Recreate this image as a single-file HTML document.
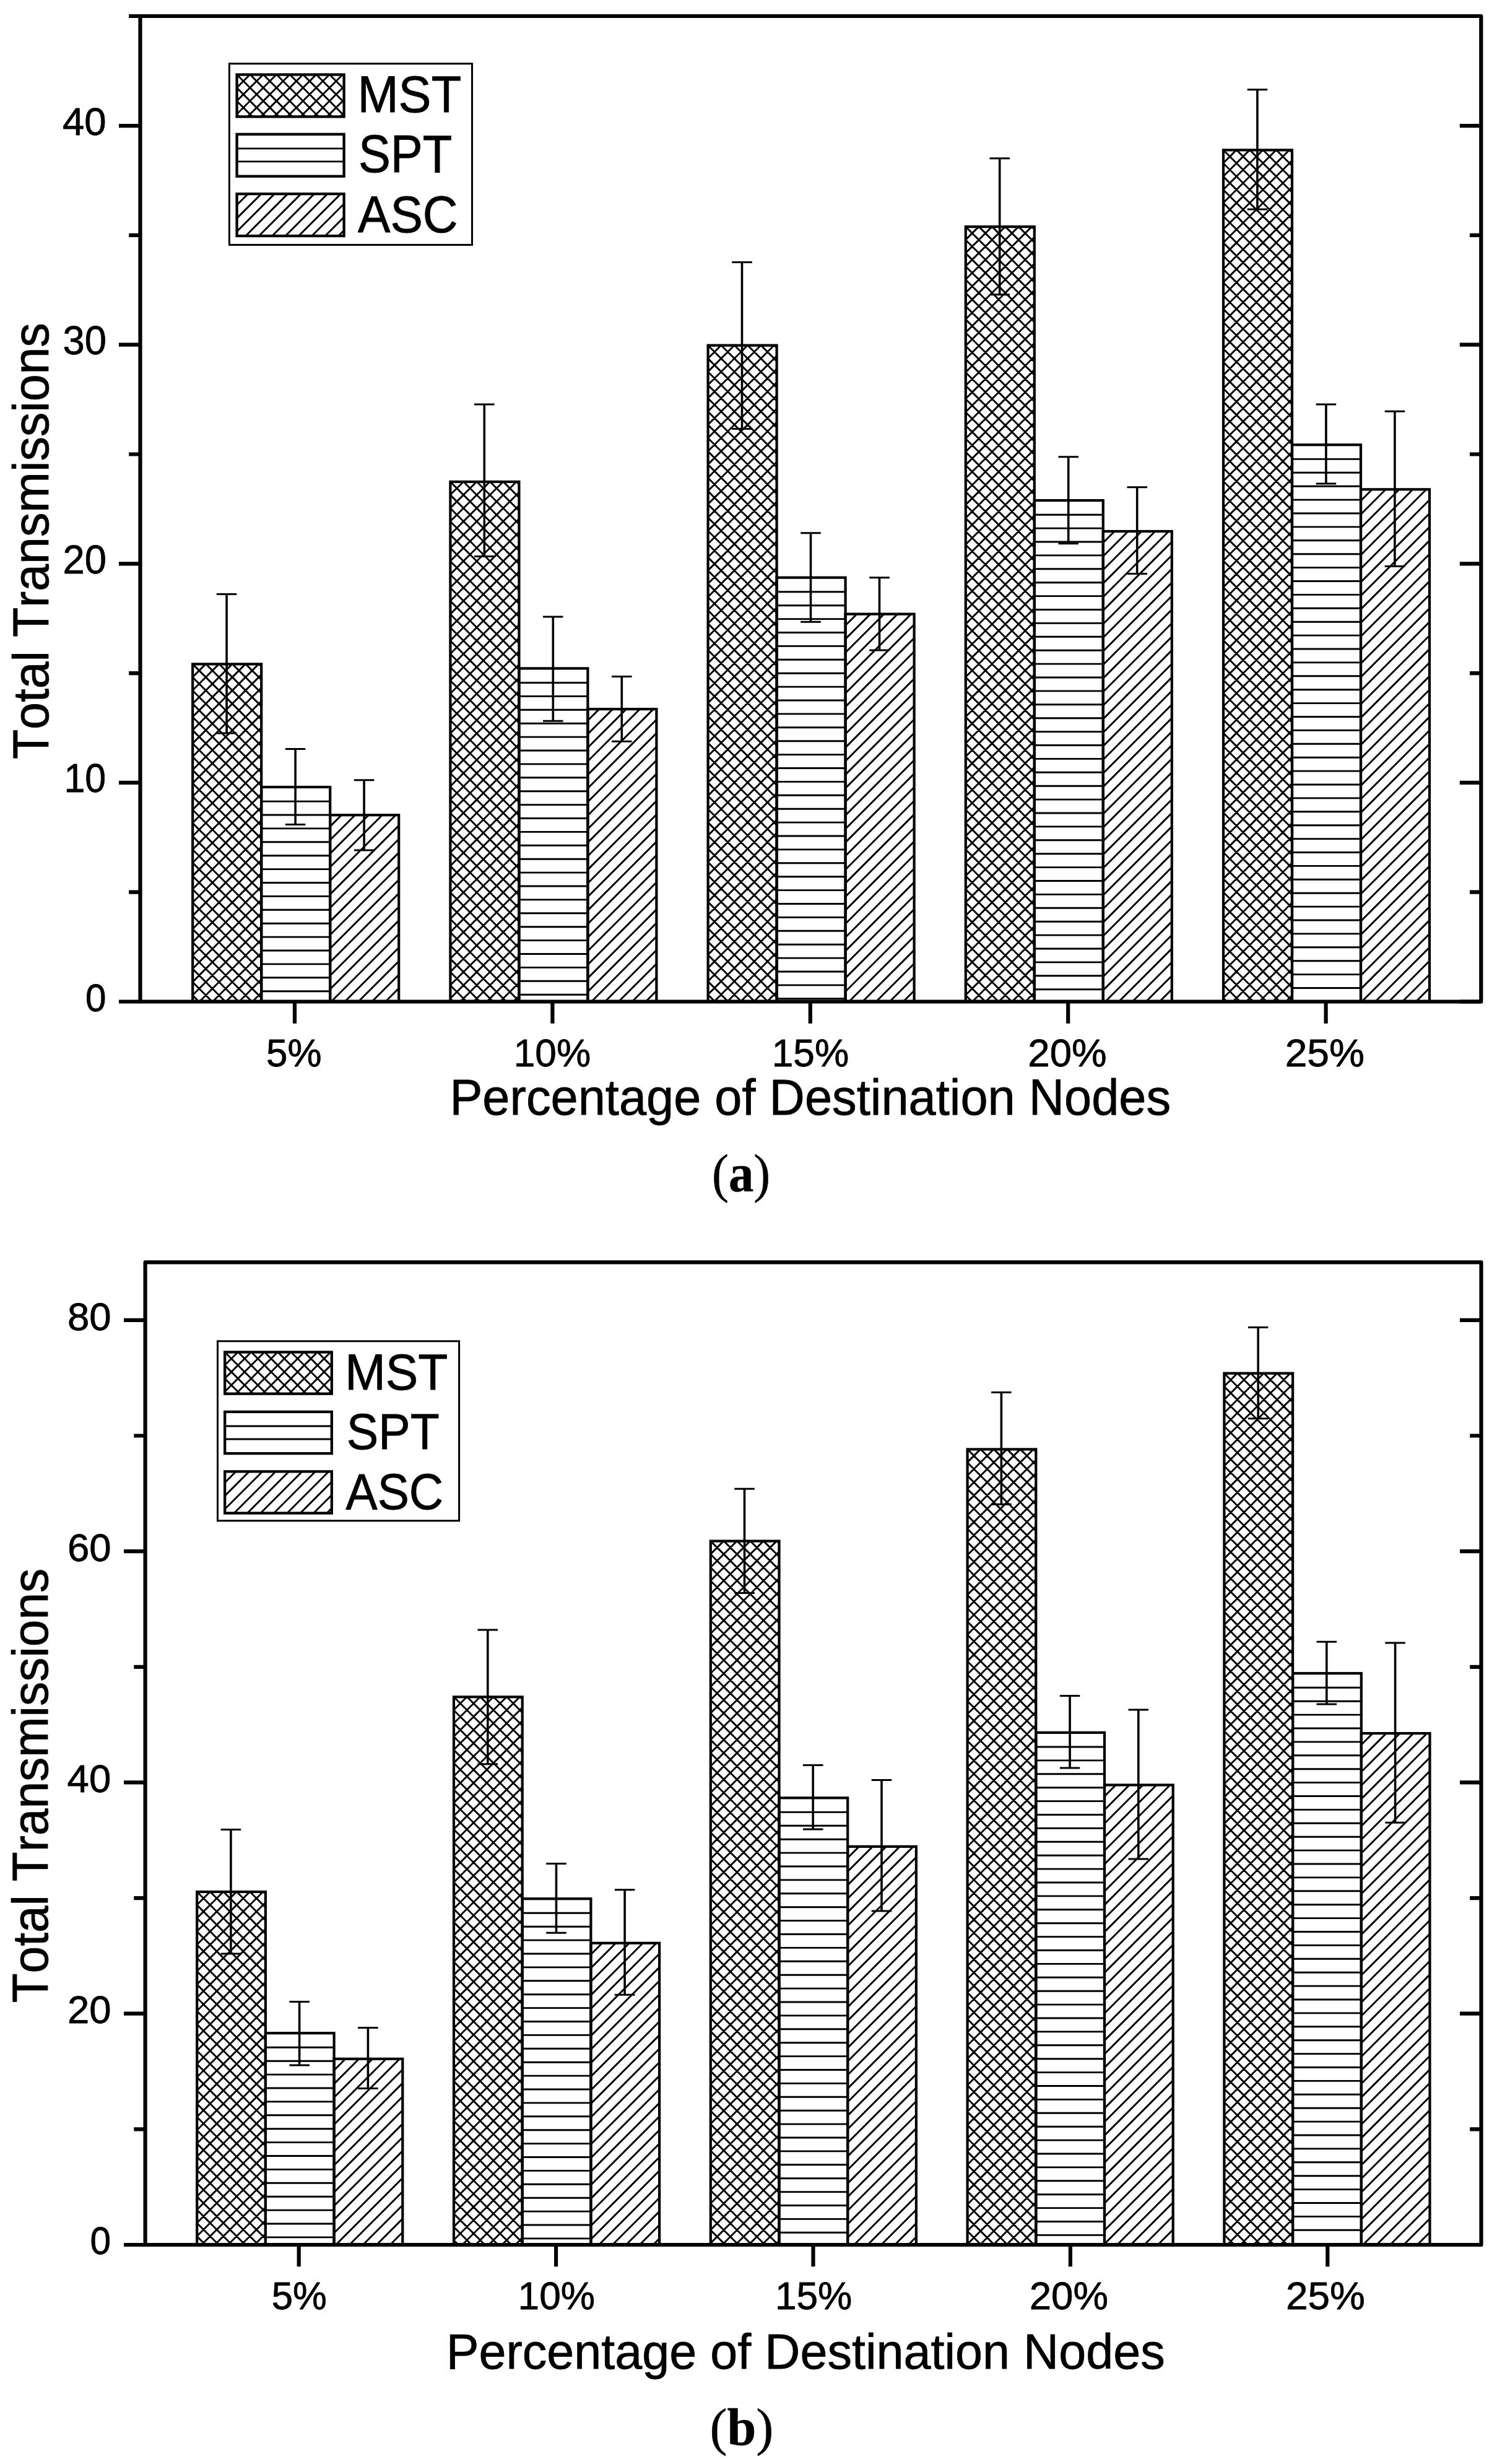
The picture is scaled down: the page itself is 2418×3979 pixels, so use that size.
<!DOCTYPE html>
<html lang="en">
<head>
<meta charset="utf-8">
<title>Total Transmissions vs Percentage of Destination Nodes</title>
<style>
html,body{margin:0;padding:0;background:#fff;}
body{width:2418px;height:3979px;overflow:hidden;}
svg{display:block;}
</style>
</head>
<body>
<svg width="2418" height="3979" viewBox="0 0 2418 3979">
<rect width="2418" height="3979" fill="#fff"/>
<g fill="none" stroke="#000">
<path d="M311.2 1093.4L332.2 1072.4M311.2 1114.8L353.6 1072.4M311.2 1136.2L375 1072.4M311.2 1157.6L396.4 1072.4M311.2 1179L417.8 1072.4M311.2 1200.4L422.2 1089.4M311.2 1221.8L422.2 1110.8M311.2 1243.2L422.2 1132.2M311.2 1264.6L422.2 1153.6M311.2 1286L422.2 1175M311.2 1307.4L422.2 1196.4M311.2 1328.8L422.2 1217.8M311.2 1350.2L422.2 1239.2M311.2 1371.6L422.2 1260.6M311.2 1393L422.2 1282M311.2 1414.4L422.2 1303.4M311.2 1435.8L422.2 1324.8M311.2 1457.2L422.2 1346.2M311.2 1478.6L422.2 1367.6M311.2 1500L422.2 1389M311.2 1521.4L422.2 1410.4M311.2 1542.8L422.2 1431.8M311.2 1564.2L422.2 1453.2M311.2 1585.6L422.2 1474.6M311.2 1607L422.2 1496M322.1 1617.5L422.2 1517.4M343.5 1617.5L422.2 1538.8M364.9 1617.5L422.2 1560.2M386.3 1617.5L422.2 1581.6M407.7 1617.5L422.2 1603M311.2 1607.4L321.3 1617.5M311.2 1586L342.7 1617.5M311.2 1564.6L364.1 1617.5M311.2 1543.2L385.5 1617.5M311.2 1521.8L406.9 1617.5M311.2 1500.4L422.2 1611.4M311.2 1479L422.2 1590M311.2 1457.6L422.2 1568.6M311.2 1436.2L422.2 1547.2M311.2 1414.8L422.2 1525.8M311.2 1393.4L422.2 1504.4M311.2 1372L422.2 1483M311.2 1350.6L422.2 1461.6M311.2 1329.2L422.2 1440.2M311.2 1307.8L422.2 1418.8M311.2 1286.4L422.2 1397.4M311.2 1265L422.2 1376M311.2 1243.6L422.2 1354.6M311.2 1222.2L422.2 1333.2M311.2 1200.8L422.2 1311.8M311.2 1179.4L422.2 1290.4M311.2 1158L422.2 1269M311.2 1136.6L422.2 1247.6M311.2 1115.2L422.2 1226.2M311.2 1093.8L422.2 1204.8M311.2 1072.4L422.2 1183.4M332.6 1072.4L422.2 1162M354 1072.4L422.2 1140.6M375.4 1072.4L422.2 1119.2M396.8 1072.4L422.2 1097.8M418.2 1072.4L422.2 1076.4" stroke-width="2.9"/><rect x="311.2" y="1072.4" width="111" height="545.1" stroke-width="4.2"/>
<path d="M422.2 1294.1H533.2M422.2 1316H533.2M422.2 1337.9H533.2M422.2 1359.8H533.2M422.2 1381.7H533.2M422.2 1403.6H533.2M422.2 1425.5H533.2M422.2 1447.4H533.2M422.2 1469.3H533.2M422.2 1491.2H533.2M422.2 1513.1H533.2M422.2 1535H533.2M422.2 1556.9H533.2M422.2 1578.8H533.2M422.2 1600.7H533.2" stroke-width="2.9"/><rect x="422.2" y="1271" width="111" height="346.5" stroke-width="4.2"/>
<path d="M533.2 1334.6L551.6 1316.2M533.2 1356.5L573.5 1316.2M533.2 1378.4L595.4 1316.2M533.2 1400.3L617.3 1316.2M533.2 1422.2L639.2 1316.2M533.2 1444.1L644.2 1333.1M533.2 1466L644.2 1355M533.2 1487.9L644.2 1376.9M533.2 1509.8L644.2 1398.8M533.2 1531.7L644.2 1420.7M533.2 1553.6L644.2 1442.6M533.2 1575.5L644.2 1464.5M533.2 1597.4L644.2 1486.4M535 1617.5L644.2 1508.3M556.9 1617.5L644.2 1530.2M578.8 1617.5L644.2 1552.1M600.7 1617.5L644.2 1574M622.6 1617.5L644.2 1595.9" stroke-width="2.9"/><rect x="533.2" y="1316.2" width="111" height="301.3" stroke-width="4.2"/>
<path d="M727.4 799L748.4 778M727.4 820.4L769.8 778M727.4 841.8L791.2 778M727.4 863.2L812.6 778M727.4 884.6L834 778M727.4 906L838.4 795M727.4 927.4L838.4 816.4M727.4 948.8L838.4 837.8M727.4 970.2L838.4 859.2M727.4 991.6L838.4 880.6M727.4 1013L838.4 902M727.4 1034.4L838.4 923.4M727.4 1055.8L838.4 944.8M727.4 1077.2L838.4 966.2M727.4 1098.6L838.4 987.6M727.4 1120L838.4 1009M727.4 1141.4L838.4 1030.4M727.4 1162.8L838.4 1051.8M727.4 1184.2L838.4 1073.2M727.4 1205.6L838.4 1094.6M727.4 1227L838.4 1116M727.4 1248.4L838.4 1137.4M727.4 1269.8L838.4 1158.8M727.4 1291.2L838.4 1180.2M727.4 1312.6L838.4 1201.6M727.4 1334L838.4 1223M727.4 1355.4L838.4 1244.4M727.4 1376.8L838.4 1265.8M727.4 1398.2L838.4 1287.2M727.4 1419.6L838.4 1308.6M727.4 1441L838.4 1330M727.4 1462.4L838.4 1351.4M727.4 1483.8L838.4 1372.8M727.4 1505.2L838.4 1394.2M727.4 1526.6L838.4 1415.6M727.4 1548L838.4 1437M727.4 1569.4L838.4 1458.4M727.4 1590.8L838.4 1479.8M727.4 1612.2L838.4 1501.2M743.5 1617.5L838.4 1522.6M764.9 1617.5L838.4 1544M786.3 1617.5L838.4 1565.4M807.7 1617.5L838.4 1586.8M829.1 1617.5L838.4 1608.2M727.4 1612.6L732.3 1617.5M727.4 1591.2L753.7 1617.5M727.4 1569.8L775.1 1617.5M727.4 1548.4L796.5 1617.5M727.4 1527L817.9 1617.5M727.4 1505.6L838.4 1616.6M727.4 1484.2L838.4 1595.2M727.4 1462.8L838.4 1573.8M727.4 1441.4L838.4 1552.4M727.4 1420L838.4 1531M727.4 1398.6L838.4 1509.6M727.4 1377.2L838.4 1488.2M727.4 1355.8L838.4 1466.8M727.4 1334.4L838.4 1445.4M727.4 1313L838.4 1424M727.4 1291.6L838.4 1402.6M727.4 1270.2L838.4 1381.2M727.4 1248.8L838.4 1359.8M727.4 1227.4L838.4 1338.4M727.4 1206L838.4 1317M727.4 1184.6L838.4 1295.6M727.4 1163.2L838.4 1274.2M727.4 1141.8L838.4 1252.8M727.4 1120.4L838.4 1231.4M727.4 1099L838.4 1210M727.4 1077.6L838.4 1188.6M727.4 1056.2L838.4 1167.2M727.4 1034.8L838.4 1145.8M727.4 1013.4L838.4 1124.4M727.4 992L838.4 1103M727.4 970.6L838.4 1081.6M727.4 949.2L838.4 1060.2M727.4 927.8L838.4 1038.8M727.4 906.4L838.4 1017.4M727.4 885L838.4 996M727.4 863.6L838.4 974.6M727.4 842.2L838.4 953.2M727.4 820.8L838.4 931.8M727.4 799.4L838.4 910.4M727.4 778L838.4 889M748.8 778L838.4 867.6M770.2 778L838.4 846.2M791.6 778L838.4 824.8M813 778L838.4 803.4M834.4 778L838.4 782" stroke-width="2.9"/><rect x="727.4" y="778" width="111" height="839.5" stroke-width="4.2"/>
<path d="M838.4 1102.5H949.4M838.4 1124.4H949.4M838.4 1146.3H949.4M838.4 1168.2H949.4M838.4 1190.1H949.4M838.4 1212H949.4M838.4 1233.9H949.4M838.4 1255.8H949.4M838.4 1277.7H949.4M838.4 1299.6H949.4M838.4 1321.5H949.4M838.4 1343.4H949.4M838.4 1365.3H949.4M838.4 1387.2H949.4M838.4 1409.1H949.4M838.4 1431H949.4M838.4 1452.9H949.4M838.4 1474.8H949.4M838.4 1496.7H949.4M838.4 1518.6H949.4M838.4 1540.5H949.4M838.4 1562.4H949.4M838.4 1584.3H949.4M838.4 1606.2H949.4" stroke-width="2.9"/><rect x="838.4" y="1079.4" width="111" height="538.1" stroke-width="4.2"/>
<path d="M949.4 1163.5L967.8 1145.1M949.4 1185.4L989.7 1145.1M949.4 1207.3L1011.6 1145.1M949.4 1229.2L1033.5 1145.1M949.4 1251.1L1055.4 1145.1M949.4 1273L1060.4 1162M949.4 1294.9L1060.4 1183.9M949.4 1316.8L1060.4 1205.8M949.4 1338.7L1060.4 1227.7M949.4 1360.6L1060.4 1249.6M949.4 1382.5L1060.4 1271.5M949.4 1404.4L1060.4 1293.4M949.4 1426.3L1060.4 1315.3M949.4 1448.2L1060.4 1337.2M949.4 1470.1L1060.4 1359.1M949.4 1492L1060.4 1381M949.4 1513.9L1060.4 1402.9M949.4 1535.8L1060.4 1424.8M949.4 1557.7L1060.4 1446.7M949.4 1579.6L1060.4 1468.6M949.4 1601.5L1060.4 1490.5M955.3 1617.5L1060.4 1512.4M977.2 1617.5L1060.4 1534.3M999.1 1617.5L1060.4 1556.2M1021 1617.5L1060.4 1578.1M1042.9 1617.5L1060.4 1600" stroke-width="2.9"/><rect x="949.4" y="1145.1" width="111" height="472.4" stroke-width="4.2"/>
<path d="M1143.6 578.7L1164.6 557.7M1143.6 600.1L1186 557.7M1143.6 621.5L1207.4 557.7M1143.6 642.9L1228.8 557.7M1143.6 664.3L1250.2 557.7M1143.6 685.7L1254.6 574.7M1143.6 707.1L1254.6 596.1M1143.6 728.5L1254.6 617.5M1143.6 749.9L1254.6 638.9M1143.6 771.3L1254.6 660.3M1143.6 792.7L1254.6 681.7M1143.6 814.1L1254.6 703.1M1143.6 835.5L1254.6 724.5M1143.6 856.9L1254.6 745.9M1143.6 878.3L1254.6 767.3M1143.6 899.7L1254.6 788.7M1143.6 921.1L1254.6 810.1M1143.6 942.5L1254.6 831.5M1143.6 963.9L1254.6 852.9M1143.6 985.3L1254.6 874.3M1143.6 1006.7L1254.6 895.7M1143.6 1028.1L1254.6 917.1M1143.6 1049.5L1254.6 938.5M1143.6 1070.9L1254.6 959.9M1143.6 1092.3L1254.6 981.3M1143.6 1113.7L1254.6 1002.7M1143.6 1135.1L1254.6 1024.1M1143.6 1156.5L1254.6 1045.5M1143.6 1177.9L1254.6 1066.9M1143.6 1199.3L1254.6 1088.3M1143.6 1220.7L1254.6 1109.7M1143.6 1242.1L1254.6 1131.1M1143.6 1263.5L1254.6 1152.5M1143.6 1284.9L1254.6 1173.9M1143.6 1306.3L1254.6 1195.3M1143.6 1327.7L1254.6 1216.7M1143.6 1349.1L1254.6 1238.1M1143.6 1370.5L1254.6 1259.5M1143.6 1391.9L1254.6 1280.9M1143.6 1413.3L1254.6 1302.3M1143.6 1434.7L1254.6 1323.7M1143.6 1456.1L1254.6 1345.1M1143.6 1477.5L1254.6 1366.5M1143.6 1498.9L1254.6 1387.9M1143.6 1520.3L1254.6 1409.3M1143.6 1541.7L1254.6 1430.7M1143.6 1563.1L1254.6 1452.1M1143.6 1584.5L1254.6 1473.5M1143.6 1605.9L1254.6 1494.9M1153.4 1617.5L1254.6 1516.3M1174.8 1617.5L1254.6 1537.7M1196.2 1617.5L1254.6 1559.1M1217.6 1617.5L1254.6 1580.5M1239 1617.5L1254.6 1601.9M1143.6 1606.3L1154.8 1617.5M1143.6 1584.9L1176.2 1617.5M1143.6 1563.5L1197.6 1617.5M1143.6 1542.1L1219 1617.5M1143.6 1520.7L1240.4 1617.5M1143.6 1499.3L1254.6 1610.3M1143.6 1477.9L1254.6 1588.9M1143.6 1456.5L1254.6 1567.5M1143.6 1435.1L1254.6 1546.1M1143.6 1413.7L1254.6 1524.7M1143.6 1392.3L1254.6 1503.3M1143.6 1370.9L1254.6 1481.9M1143.6 1349.5L1254.6 1460.5M1143.6 1328.1L1254.6 1439.1M1143.6 1306.7L1254.6 1417.7M1143.6 1285.3L1254.6 1396.3M1143.6 1263.9L1254.6 1374.9M1143.6 1242.5L1254.6 1353.5M1143.6 1221.1L1254.6 1332.1M1143.6 1199.7L1254.6 1310.7M1143.6 1178.3L1254.6 1289.3M1143.6 1156.9L1254.6 1267.9M1143.6 1135.5L1254.6 1246.5M1143.6 1114.1L1254.6 1225.1M1143.6 1092.7L1254.6 1203.7M1143.6 1071.3L1254.6 1182.3M1143.6 1049.9L1254.6 1160.9M1143.6 1028.5L1254.6 1139.5M1143.6 1007.1L1254.6 1118.1M1143.6 985.7L1254.6 1096.7M1143.6 964.3L1254.6 1075.3M1143.6 942.9L1254.6 1053.9M1143.6 921.5L1254.6 1032.5M1143.6 900.1L1254.6 1011.1M1143.6 878.7L1254.6 989.7M1143.6 857.3L1254.6 968.3M1143.6 835.9L1254.6 946.9M1143.6 814.5L1254.6 925.5M1143.6 793.1L1254.6 904.1M1143.6 771.7L1254.6 882.7M1143.6 750.3L1254.6 861.3M1143.6 728.9L1254.6 839.9M1143.6 707.5L1254.6 818.5M1143.6 686.1L1254.6 797.1M1143.6 664.7L1254.6 775.7M1143.6 643.3L1254.6 754.3M1143.6 621.9L1254.6 732.9M1143.6 600.5L1254.6 711.5M1143.6 579.1L1254.6 690.1M1143.6 557.7L1254.6 668.7M1165 557.7L1254.6 647.3M1186.4 557.7L1254.6 625.9M1207.8 557.7L1254.6 604.5M1229.2 557.7L1254.6 583.1M1250.6 557.7L1254.6 561.7" stroke-width="2.9"/><rect x="1143.6" y="557.7" width="111" height="1059.8" stroke-width="4.2"/>
<path d="M1254.6 955.8H1365.6M1254.6 977.7H1365.6M1254.6 999.6H1365.6M1254.6 1021.5H1365.6M1254.6 1043.4H1365.6M1254.6 1065.3H1365.6M1254.6 1087.2H1365.6M1254.6 1109.1H1365.6M1254.6 1131H1365.6M1254.6 1152.9H1365.6M1254.6 1174.8H1365.6M1254.6 1196.7H1365.6M1254.6 1218.6H1365.6M1254.6 1240.5H1365.6M1254.6 1262.4H1365.6M1254.6 1284.3H1365.6M1254.6 1306.2H1365.6M1254.6 1328.1H1365.6M1254.6 1350H1365.6M1254.6 1371.9H1365.6M1254.6 1393.8H1365.6M1254.6 1415.7H1365.6M1254.6 1437.6H1365.6M1254.6 1459.5H1365.6M1254.6 1481.4H1365.6M1254.6 1503.3H1365.6M1254.6 1525.2H1365.6M1254.6 1547.1H1365.6M1254.6 1569H1365.6M1254.6 1590.9H1365.6M1254.6 1612.8H1365.6" stroke-width="2.9"/><rect x="1254.6" y="932.7" width="111" height="684.8" stroke-width="4.2"/>
<path d="M1365.6 1010L1384 991.6M1365.6 1031.9L1405.9 991.6M1365.6 1053.8L1427.8 991.6M1365.6 1075.7L1449.7 991.6M1365.6 1097.6L1471.6 991.6M1365.6 1119.5L1476.6 1008.5M1365.6 1141.4L1476.6 1030.4M1365.6 1163.3L1476.6 1052.3M1365.6 1185.2L1476.6 1074.2M1365.6 1207.1L1476.6 1096.1M1365.6 1229L1476.6 1118M1365.6 1250.9L1476.6 1139.9M1365.6 1272.8L1476.6 1161.8M1365.6 1294.7L1476.6 1183.7M1365.6 1316.6L1476.6 1205.6M1365.6 1338.5L1476.6 1227.5M1365.6 1360.4L1476.6 1249.4M1365.6 1382.3L1476.6 1271.3M1365.6 1404.2L1476.6 1293.2M1365.6 1426.1L1476.6 1315.1M1365.6 1448L1476.6 1337M1365.6 1469.9L1476.6 1358.9M1365.6 1491.8L1476.6 1380.8M1365.6 1513.7L1476.6 1402.7M1365.6 1535.6L1476.6 1424.6M1365.6 1557.5L1476.6 1446.5M1365.6 1579.4L1476.6 1468.4M1365.6 1601.3L1476.6 1490.3M1371.3 1617.5L1476.6 1512.2M1393.2 1617.5L1476.6 1534.1M1415.1 1617.5L1476.6 1556M1437 1617.5L1476.6 1577.9M1458.9 1617.5L1476.6 1599.8" stroke-width="2.9"/><rect x="1365.6" y="991.6" width="111" height="625.9" stroke-width="4.2"/>
<path d="M1559.8 387.1L1580.8 366.1M1559.8 408.5L1602.2 366.1M1559.8 429.9L1623.6 366.1M1559.8 451.3L1645 366.1M1559.8 472.7L1666.4 366.1M1559.8 494.1L1670.8 383.1M1559.8 515.5L1670.8 404.5M1559.8 536.9L1670.8 425.9M1559.8 558.3L1670.8 447.3M1559.8 579.7L1670.8 468.7M1559.8 601.1L1670.8 490.1M1559.8 622.5L1670.8 511.5M1559.8 643.9L1670.8 532.9M1559.8 665.3L1670.8 554.3M1559.8 686.7L1670.8 575.7M1559.8 708.1L1670.8 597.1M1559.8 729.5L1670.8 618.5M1559.8 750.9L1670.8 639.9M1559.8 772.3L1670.8 661.3M1559.8 793.7L1670.8 682.7M1559.8 815.1L1670.8 704.1M1559.8 836.5L1670.8 725.5M1559.8 857.9L1670.8 746.9M1559.8 879.3L1670.8 768.3M1559.8 900.7L1670.8 789.7M1559.8 922.1L1670.8 811.1M1559.8 943.5L1670.8 832.5M1559.8 964.9L1670.8 853.9M1559.8 986.3L1670.8 875.3M1559.8 1007.7L1670.8 896.7M1559.8 1029.1L1670.8 918.1M1559.8 1050.5L1670.8 939.5M1559.8 1071.9L1670.8 960.9M1559.8 1093.3L1670.8 982.3M1559.8 1114.7L1670.8 1003.7M1559.8 1136.1L1670.8 1025.1M1559.8 1157.5L1670.8 1046.5M1559.8 1178.9L1670.8 1067.9M1559.8 1200.3L1670.8 1089.3M1559.8 1221.7L1670.8 1110.7M1559.8 1243.1L1670.8 1132.1M1559.8 1264.5L1670.8 1153.5M1559.8 1285.9L1670.8 1174.9M1559.8 1307.3L1670.8 1196.3M1559.8 1328.7L1670.8 1217.7M1559.8 1350.1L1670.8 1239.1M1559.8 1371.5L1670.8 1260.5M1559.8 1392.9L1670.8 1281.9M1559.8 1414.3L1670.8 1303.3M1559.8 1435.7L1670.8 1324.7M1559.8 1457.1L1670.8 1346.1M1559.8 1478.5L1670.8 1367.5M1559.8 1499.9L1670.8 1388.9M1559.8 1521.3L1670.8 1410.3M1559.8 1542.7L1670.8 1431.7M1559.8 1564.1L1670.8 1453.1M1559.8 1585.5L1670.8 1474.5M1559.8 1606.9L1670.8 1495.9M1570.6 1617.5L1670.8 1517.3M1592 1617.5L1670.8 1538.7M1613.4 1617.5L1670.8 1560.1M1634.8 1617.5L1670.8 1581.5M1656.2 1617.5L1670.8 1602.9M1559.8 1607.3L1570 1617.5M1559.8 1585.9L1591.4 1617.5M1559.8 1564.5L1612.8 1617.5M1559.8 1543.1L1634.2 1617.5M1559.8 1521.7L1655.6 1617.5M1559.8 1500.3L1670.8 1611.3M1559.8 1478.9L1670.8 1589.9M1559.8 1457.5L1670.8 1568.5M1559.8 1436.1L1670.8 1547.1M1559.8 1414.7L1670.8 1525.7M1559.8 1393.3L1670.8 1504.3M1559.8 1371.9L1670.8 1482.9M1559.8 1350.5L1670.8 1461.5M1559.8 1329.1L1670.8 1440.1M1559.8 1307.7L1670.8 1418.7M1559.8 1286.3L1670.8 1397.3M1559.8 1264.9L1670.8 1375.9M1559.8 1243.5L1670.8 1354.5M1559.8 1222.1L1670.8 1333.1M1559.8 1200.7L1670.8 1311.7M1559.8 1179.3L1670.8 1290.3M1559.8 1157.9L1670.8 1268.9M1559.8 1136.5L1670.8 1247.5M1559.8 1115.1L1670.8 1226.1M1559.8 1093.7L1670.8 1204.7M1559.8 1072.3L1670.8 1183.3M1559.8 1050.9L1670.8 1161.9M1559.8 1029.5L1670.8 1140.5M1559.8 1008.1L1670.8 1119.1M1559.8 986.7L1670.8 1097.7M1559.8 965.3L1670.8 1076.3M1559.8 943.9L1670.8 1054.9M1559.8 922.5L1670.8 1033.5M1559.8 901.1L1670.8 1012.1M1559.8 879.7L1670.8 990.7M1559.8 858.3L1670.8 969.3M1559.8 836.9L1670.8 947.9M1559.8 815.5L1670.8 926.5M1559.8 794.1L1670.8 905.1M1559.8 772.7L1670.8 883.7M1559.8 751.3L1670.8 862.3M1559.8 729.9L1670.8 840.9M1559.8 708.5L1670.8 819.5M1559.8 687.1L1670.8 798.1M1559.8 665.7L1670.8 776.7M1559.8 644.3L1670.8 755.3M1559.8 622.9L1670.8 733.9M1559.8 601.5L1670.8 712.5M1559.8 580.1L1670.8 691.1M1559.8 558.7L1670.8 669.7M1559.8 537.3L1670.8 648.3M1559.8 515.9L1670.8 626.9M1559.8 494.5L1670.8 605.5M1559.8 473.1L1670.8 584.1M1559.8 451.7L1670.8 562.7M1559.8 430.3L1670.8 541.3M1559.8 408.9L1670.8 519.9M1559.8 387.5L1670.8 498.5M1559.8 366.1L1670.8 477.1M1581.2 366.1L1670.8 455.7M1602.6 366.1L1670.8 434.3M1624 366.1L1670.8 412.9M1645.4 366.1L1670.8 391.5M1666.8 366.1L1670.8 370.1" stroke-width="2.9"/><rect x="1559.8" y="366.1" width="111" height="1251.4" stroke-width="4.2"/>
<path d="M1670.8 831.2H1781.8M1670.8 853.1H1781.8M1670.8 875H1781.8M1670.8 896.9H1781.8M1670.8 918.8H1781.8M1670.8 940.7H1781.8M1670.8 962.6H1781.8M1670.8 984.5H1781.8M1670.8 1006.4H1781.8M1670.8 1028.3H1781.8M1670.8 1050.2H1781.8M1670.8 1072.1H1781.8M1670.8 1094H1781.8M1670.8 1115.9H1781.8M1670.8 1137.8H1781.8M1670.8 1159.7H1781.8M1670.8 1181.6H1781.8M1670.8 1203.5H1781.8M1670.8 1225.4H1781.8M1670.8 1247.3H1781.8M1670.8 1269.2H1781.8M1670.8 1291.1H1781.8M1670.8 1313H1781.8M1670.8 1334.9H1781.8M1670.8 1356.8H1781.8M1670.8 1378.7H1781.8M1670.8 1400.6H1781.8M1670.8 1422.5H1781.8M1670.8 1444.4H1781.8M1670.8 1466.3H1781.8M1670.8 1488.2H1781.8M1670.8 1510.1H1781.8M1670.8 1532H1781.8M1670.8 1553.9H1781.8M1670.8 1575.8H1781.8M1670.8 1597.7H1781.8" stroke-width="2.9"/><rect x="1670.8" y="808.1" width="111" height="809.4" stroke-width="4.2"/>
<path d="M1781.8 876.4L1800.2 858M1781.8 898.3L1822.1 858M1781.8 920.2L1844 858M1781.8 942.1L1865.9 858M1781.8 964L1887.8 858M1781.8 985.9L1892.8 874.9M1781.8 1007.8L1892.8 896.8M1781.8 1029.7L1892.8 918.7M1781.8 1051.6L1892.8 940.6M1781.8 1073.5L1892.8 962.5M1781.8 1095.4L1892.8 984.4M1781.8 1117.3L1892.8 1006.3M1781.8 1139.2L1892.8 1028.2M1781.8 1161.1L1892.8 1050.1M1781.8 1183L1892.8 1072M1781.8 1204.9L1892.8 1093.9M1781.8 1226.8L1892.8 1115.8M1781.8 1248.7L1892.8 1137.7M1781.8 1270.6L1892.8 1159.6M1781.8 1292.5L1892.8 1181.5M1781.8 1314.4L1892.8 1203.4M1781.8 1336.3L1892.8 1225.3M1781.8 1358.2L1892.8 1247.2M1781.8 1380.1L1892.8 1269.1M1781.8 1402L1892.8 1291M1781.8 1423.9L1892.8 1312.9M1781.8 1445.8L1892.8 1334.8M1781.8 1467.7L1892.8 1356.7M1781.8 1489.6L1892.8 1378.6M1781.8 1511.5L1892.8 1400.5M1781.8 1533.4L1892.8 1422.4M1781.8 1555.3L1892.8 1444.3M1781.8 1577.2L1892.8 1466.2M1781.8 1599.1L1892.8 1488.1M1785.3 1617.5L1892.8 1510M1807.2 1617.5L1892.8 1531.9M1829.1 1617.5L1892.8 1553.8M1851 1617.5L1892.8 1575.7M1872.9 1617.5L1892.8 1597.6" stroke-width="2.9"/><rect x="1781.8" y="858" width="111" height="759.5" stroke-width="4.2"/>
<path d="M1976 263.3L1997 242.3M1976 284.7L2018.4 242.3M1976 306.1L2039.8 242.3M1976 327.5L2061.2 242.3M1976 348.9L2082.6 242.3M1976 370.3L2087 259.3M1976 391.7L2087 280.7M1976 413.1L2087 302.1M1976 434.5L2087 323.5M1976 455.9L2087 344.9M1976 477.3L2087 366.3M1976 498.7L2087 387.7M1976 520.1L2087 409.1M1976 541.5L2087 430.5M1976 562.9L2087 451.9M1976 584.3L2087 473.3M1976 605.7L2087 494.7M1976 627.1L2087 516.1M1976 648.5L2087 537.5M1976 669.9L2087 558.9M1976 691.3L2087 580.3M1976 712.7L2087 601.7M1976 734.1L2087 623.1M1976 755.5L2087 644.5M1976 776.9L2087 665.9M1976 798.3L2087 687.3M1976 819.7L2087 708.7M1976 841.1L2087 730.1M1976 862.5L2087 751.5M1976 883.9L2087 772.9M1976 905.3L2087 794.3M1976 926.7L2087 815.7M1976 948.1L2087 837.1M1976 969.5L2087 858.5M1976 990.9L2087 879.9M1976 1012.3L2087 901.3M1976 1033.7L2087 922.7M1976 1055.1L2087 944.1M1976 1076.5L2087 965.5M1976 1097.9L2087 986.9M1976 1119.3L2087 1008.3M1976 1140.7L2087 1029.7M1976 1162.1L2087 1051.1M1976 1183.5L2087 1072.5M1976 1204.9L2087 1093.9M1976 1226.3L2087 1115.3M1976 1247.7L2087 1136.7M1976 1269.1L2087 1158.1M1976 1290.5L2087 1179.5M1976 1311.9L2087 1200.9M1976 1333.3L2087 1222.3M1976 1354.7L2087 1243.7M1976 1376.1L2087 1265.1M1976 1397.5L2087 1286.5M1976 1418.9L2087 1307.9M1976 1440.3L2087 1329.3M1976 1461.7L2087 1350.7M1976 1483.1L2087 1372.1M1976 1504.5L2087 1393.5M1976 1525.9L2087 1414.9M1976 1547.3L2087 1436.3M1976 1568.7L2087 1457.7M1976 1590.1L2087 1479.1M1976 1611.5L2087 1500.5M1991.4 1617.5L2087 1521.9M2012.8 1617.5L2087 1543.3M2034.2 1617.5L2087 1564.7M2055.6 1617.5L2087 1586.1M2077 1617.5L2087 1607.5M1976 1611.9L1981.6 1617.5M1976 1590.5L2003 1617.5M1976 1569.1L2024.4 1617.5M1976 1547.7L2045.8 1617.5M1976 1526.3L2067.2 1617.5M1976 1504.9L2087 1615.9M1976 1483.5L2087 1594.5M1976 1462.1L2087 1573.1M1976 1440.7L2087 1551.7M1976 1419.3L2087 1530.3M1976 1397.9L2087 1508.9M1976 1376.5L2087 1487.5M1976 1355.1L2087 1466.1M1976 1333.7L2087 1444.7M1976 1312.3L2087 1423.3M1976 1290.9L2087 1401.9M1976 1269.5L2087 1380.5M1976 1248.1L2087 1359.1M1976 1226.7L2087 1337.7M1976 1205.3L2087 1316.3M1976 1183.9L2087 1294.9M1976 1162.5L2087 1273.5M1976 1141.1L2087 1252.1M1976 1119.7L2087 1230.7M1976 1098.3L2087 1209.3M1976 1076.9L2087 1187.9M1976 1055.5L2087 1166.5M1976 1034.1L2087 1145.1M1976 1012.7L2087 1123.7M1976 991.3L2087 1102.3M1976 969.9L2087 1080.9M1976 948.5L2087 1059.5M1976 927.1L2087 1038.1M1976 905.7L2087 1016.7M1976 884.3L2087 995.3M1976 862.9L2087 973.9M1976 841.5L2087 952.5M1976 820.1L2087 931.1M1976 798.7L2087 909.7M1976 777.3L2087 888.3M1976 755.9L2087 866.9M1976 734.5L2087 845.5M1976 713.1L2087 824.1M1976 691.7L2087 802.7M1976 670.3L2087 781.3M1976 648.9L2087 759.9M1976 627.5L2087 738.5M1976 606.1L2087 717.1M1976 584.7L2087 695.7M1976 563.3L2087 674.3M1976 541.9L2087 652.9M1976 520.5L2087 631.5M1976 499.1L2087 610.1M1976 477.7L2087 588.7M1976 456.3L2087 567.3M1976 434.9L2087 545.9M1976 413.5L2087 524.5M1976 392.1L2087 503.1M1976 370.7L2087 481.7M1976 349.3L2087 460.3M1976 327.9L2087 438.9M1976 306.5L2087 417.5M1976 285.1L2087 396.1M1976 263.7L2087 374.7M1976 242.3L2087 353.3M1997.4 242.3L2087 331.9M2018.8 242.3L2087 310.5M2040.2 242.3L2087 289.1M2061.6 242.3L2087 267.7M2083 242.3L2087 246.3" stroke-width="2.9"/><rect x="1976" y="242.3" width="111" height="1375.2" stroke-width="4.2"/>
<path d="M2087 741.4H2198M2087 763.3H2198M2087 785.2H2198M2087 807.1H2198M2087 829H2198M2087 850.9H2198M2087 872.8H2198M2087 894.7H2198M2087 916.6H2198M2087 938.5H2198M2087 960.4H2198M2087 982.3H2198M2087 1004.2H2198M2087 1026.1H2198M2087 1048H2198M2087 1069.9H2198M2087 1091.8H2198M2087 1113.7H2198M2087 1135.6H2198M2087 1157.5H2198M2087 1179.4H2198M2087 1201.3H2198M2087 1223.2H2198M2087 1245.1H2198M2087 1267H2198M2087 1288.9H2198M2087 1310.8H2198M2087 1332.7H2198M2087 1354.6H2198M2087 1376.5H2198M2087 1398.4H2198M2087 1420.3H2198M2087 1442.2H2198M2087 1464.1H2198M2087 1486H2198M2087 1507.9H2198M2087 1529.8H2198M2087 1551.7H2198M2087 1573.6H2198M2087 1595.5H2198" stroke-width="2.9"/><rect x="2087" y="718.3" width="111" height="899.2" stroke-width="4.2"/>
<path d="M2198 808.7L2216.4 790.3M2198 830.6L2238.3 790.3M2198 852.5L2260.2 790.3M2198 874.4L2282.1 790.3M2198 896.3L2304 790.3M2198 918.2L2309 807.2M2198 940.1L2309 829.1M2198 962L2309 851M2198 983.9L2309 872.9M2198 1005.8L2309 894.8M2198 1027.7L2309 916.7M2198 1049.6L2309 938.6M2198 1071.5L2309 960.5M2198 1093.4L2309 982.4M2198 1115.3L2309 1004.3M2198 1137.2L2309 1026.2M2198 1159.1L2309 1048.1M2198 1181L2309 1070M2198 1202.9L2309 1091.9M2198 1224.8L2309 1113.8M2198 1246.7L2309 1135.7M2198 1268.6L2309 1157.6M2198 1290.5L2309 1179.5M2198 1312.4L2309 1201.4M2198 1334.3L2309 1223.3M2198 1356.2L2309 1245.2M2198 1378.1L2309 1267.1M2198 1400L2309 1289M2198 1421.9L2309 1310.9M2198 1443.8L2309 1332.8M2198 1465.7L2309 1354.7M2198 1487.6L2309 1376.6M2198 1509.5L2309 1398.5M2198 1531.4L2309 1420.4M2198 1553.3L2309 1442.3M2198 1575.2L2309 1464.2M2198 1597.1L2309 1486.1M2199.5 1617.5L2309 1508M2221.4 1617.5L2309 1529.9M2243.3 1617.5L2309 1551.8M2265.2 1617.5L2309 1573.7M2287.1 1617.5L2309 1595.6M2309 1617.5L2309 1617.5" stroke-width="2.9"/><rect x="2198" y="790.3" width="111" height="827.2" stroke-width="4.2"/>
<path d="M366.1 959.5V1183.9" stroke-width="3.6"/><path d="M349.8 959.5H382.3M349.8 1183.9H382.3" stroke-width="3"/>
<path d="M477.1 1209.6V1331.5" stroke-width="3.6"/><path d="M460.8 1209.6H493.3M460.8 1331.5H493.3" stroke-width="3"/>
<path d="M588.1 1259.7V1372.9" stroke-width="3.6"/><path d="M571.9 1259.7H604.4M571.9 1372.9H604.4" stroke-width="3"/>
<path d="M782.3 652.9V898.6" stroke-width="3.6"/><path d="M766 652.9H798.5M766 898.6H798.5" stroke-width="3"/>
<path d="M893.3 996V1164.3" stroke-width="3.6"/><path d="M877 996H909.5M877 1164.3H909.5" stroke-width="3"/>
<path d="M1004.3 1092.6V1197.2" stroke-width="3.6"/><path d="M988 1092.6H1020.5M988 1197.2H1020.5" stroke-width="3"/>
<path d="M1198.5 423.5V692.4" stroke-width="3.6"/><path d="M1182.2 423.5H1214.8M1182.2 692.4H1214.8" stroke-width="3"/>
<path d="M1309.5 860.7V1004.2" stroke-width="3.6"/><path d="M1293.2 860.7H1325.8M1293.2 1004.2H1325.8" stroke-width="3"/>
<path d="M1420.5 932.7V1050" stroke-width="3.6"/><path d="M1404.2 932.7H1436.8M1404.2 1050H1436.8" stroke-width="3"/>
<path d="M1614.7 255.8V475.8" stroke-width="3.6"/><path d="M1598.5 255.8H1631M1598.5 475.8H1631" stroke-width="3"/>
<path d="M1725.7 737.7V877.8" stroke-width="3.6"/><path d="M1709.5 737.7H1742M1709.5 877.8H1742" stroke-width="3"/>
<path d="M1836.7 786.8V926.6" stroke-width="3.6"/><path d="M1820.5 786.8H1853M1820.5 926.6H1853" stroke-width="3"/>
<path d="M2030.9 144.8V337.9" stroke-width="3.6"/><path d="M2014.7 144.8H2047.2M2014.7 337.9H2047.2" stroke-width="3"/>
<path d="M2141.9 653.1V780.9" stroke-width="3.6"/><path d="M2125.7 653.1H2158.2M2125.7 780.9H2158.2" stroke-width="3"/>
<path d="M2252.9 664.2V914.4" stroke-width="3.6"/><path d="M2236.7 664.2H2269.2M2236.7 914.4H2269.2" stroke-width="3"/>
<rect x="226.5" y="26" width="2165.8" height="1591.5" stroke-width="6.2" stroke-linejoin="round"/>
<path d="M226.5 1617.5H192M2392.3 1617.5H2357.8M226.5 1440.7H208.2M2392.3 1440.7H2374M226.5 1263.9H192M2392.3 1263.9H2357.8M226.5 1087.1H208.2M2392.3 1087.1H2374M226.5 910.3H192M2392.3 910.3H2357.8M226.5 733.5H208.2M2392.3 733.5H2374M226.5 556.7H192M2392.3 556.7H2357.8M226.5 379.9H208.2M2392.3 379.9H2374M226.5 203.1H192M2392.3 203.1H2357.8M226.5 26H208.2M2392.3 26H2374M476 1617.5V1652.8M892.4 1617.5V1652.8M1308.8 1617.5V1652.8M1725.2 1617.5V1652.8M2141.6 1617.5V1652.8" stroke-width="6.2"/>
<rect x="370.4" y="102.8" width="392.1" height="292.6" stroke-width="3"/>
<path d="M382.6 141.5L403.6 120.5M382.6 162.9L425 120.5M382.6 184.3L446.4 120.5M399.9 188.4L467.8 120.5M421.3 188.4L489.2 120.5M442.7 188.4L510.6 120.5M464.1 188.4L532 120.5M485.5 188.4L553.4 120.5M506.9 188.4L555.6 139.7M528.3 188.4L555.6 161.1M549.7 188.4L555.6 182.5M382.6 184.7L386.3 188.4M382.6 163.3L407.7 188.4M382.6 141.9L429.1 188.4M382.6 120.5L450.5 188.4M404 120.5L471.9 188.4M425.4 120.5L493.3 188.4M446.8 120.5L514.7 188.4M468.2 120.5L536.1 188.4M489.6 120.5L555.6 186.5M511 120.5L555.6 165.1M532.4 120.5L555.6 143.7M553.8 120.5L555.6 122.3" stroke-width="2.9"/><rect x="382.6" y="120.5" width="173" height="67.9" stroke-width="4.3"/>
<path d="M382.6 239.9H555.6M382.6 260.9H555.6" stroke-width="2.9"/><rect x="382.6" y="216.8" width="173" height="67.9" stroke-width="4.3"/>
<path d="M382.6 331L400.5 313.1M382.6 352.4L421.9 313.1M382.6 373.8L443.3 313.1M396.8 381L464.7 313.1M418.2 381L486.1 313.1M439.6 381L507.5 313.1M461 381L528.9 313.1M482.4 381L550.3 313.1M503.8 381L555.6 329.2M525.2 381L555.6 350.6M546.6 381L555.6 372" stroke-width="2.9"/><rect x="382.6" y="313.1" width="173" height="67.9" stroke-width="4.3"/>
</g>
<text transform="translate(137.90 1632.90) scale(0.9130 0.9427)" font-family="'Liberation Sans', Arial, sans-serif" font-size="66" stroke="#000" stroke-width="0.8" stroke-linejoin="round" style="font-kerning:none">0</text>
<text transform="translate(103.40 1279.40) scale(0.9218 0.9751)" font-family="'Liberation Sans', Arial, sans-serif" font-size="66" stroke="#000" stroke-width="0.8" stroke-linejoin="round" style="font-kerning:none">10</text>
<text transform="translate(101.40 926.00) scale(0.9598 0.9708)" font-family="'Liberation Sans', Arial, sans-serif" font-size="66" stroke="#000" stroke-width="0.8" stroke-linejoin="round" style="font-kerning:none">20</text>
<text transform="translate(101.40 572.20) scale(0.9598 0.9708)" font-family="'Liberation Sans', Arial, sans-serif" font-size="66" stroke="#000" stroke-width="0.8" stroke-linejoin="round" style="font-kerning:none">30</text>
<text transform="translate(101.00 218.40) scale(0.9626 0.9419)" font-family="'Liberation Sans', Arial, sans-serif" font-size="66" stroke="#000" stroke-width="0.8" stroke-linejoin="round" style="font-kerning:none">40</text>
<text transform="translate(430.00 1721.60) scale(0.9380 0.9588)" font-family="'Liberation Sans', Arial, sans-serif" font-size="66" stroke="#000" stroke-width="0.8" stroke-linejoin="round" style="font-kerning:none">5%</text>
<text transform="translate(829.80 1721.60) scale(0.9418 0.9588)" font-family="'Liberation Sans', Arial, sans-serif" font-size="66" stroke="#000" stroke-width="0.8" stroke-linejoin="round" style="font-kerning:none">10%</text>
<text transform="translate(1246.80 1721.60) scale(0.9418 0.9588)" font-family="'Liberation Sans', Arial, sans-serif" font-size="66" stroke="#000" stroke-width="0.8" stroke-linejoin="round" style="font-kerning:none">15%</text>
<text transform="translate(1660.30 1721.60) scale(0.9638 0.9588)" font-family="'Liberation Sans', Arial, sans-serif" font-size="66" stroke="#000" stroke-width="0.8" stroke-linejoin="round" style="font-kerning:none">20%</text>
<text transform="translate(2075.70 1721.60) scale(0.9717 0.9588)" font-family="'Liberation Sans', Arial, sans-serif" font-size="66" stroke="#000" stroke-width="0.8" stroke-linejoin="round" style="font-kerning:none">25%</text>
<text transform="translate(726.40 1800.20) scale(0.9680 1.0008)" font-family="'Liberation Sans', Arial, sans-serif" font-size="82" stroke="#000" stroke-width="0.8" stroke-linejoin="round" style="font-kerning:none">Percentage of Destination Nodes</text>
<text transform="translate(78.10 1226.00) rotate(-90) scale(0.9605 0.9932)" font-family="'Liberation Sans', Arial, sans-serif" font-size="82" stroke="#000" stroke-width="0.8" stroke-linejoin="round" style="font-kerning:none">Total Transmissions</text>
<text transform="translate(577.40 181.30) scale(0.9695 1.0256)" font-family="'Liberation Sans', Arial, sans-serif" font-size="82" stroke="#000" stroke-width="0.8" stroke-linejoin="round" style="font-kerning:none">MST</text>
<text transform="translate(579.00 278.30) scale(0.9479 1.0395)" font-family="'Liberation Sans', Arial, sans-serif" font-size="82" stroke="#000" stroke-width="0.8" stroke-linejoin="round" style="font-kerning:none">SPT</text>
<text transform="translate(578.00 375.00) scale(0.9586 1.0219)" font-family="'Liberation Sans', Arial, sans-serif" font-size="82" stroke="#000" stroke-width="0.8" stroke-linejoin="round" style="font-kerning:none">ASC</text>
<text transform="translate(1150.10 1924.30) scale(0.9168 0.9830)" font-family="'Liberation Serif', 'DejaVu Serif', serif" font-size="88" stroke="#000" stroke-width="0.5" stroke-linejoin="round" style="font-kerning:none">(<tspan font-weight="bold">a</tspan>)</text>
<g fill="none" stroke="#000">
<path d="M318.2 3076L339.2 3055M318.2 3097.4L360.6 3055M318.2 3118.8L382 3055M318.2 3140.2L403.4 3055M318.2 3161.6L424.8 3055M318.2 3183L428.9 3072.3M318.2 3204.4L428.9 3093.7M318.2 3225.8L428.9 3115.1M318.2 3247.2L428.9 3136.5M318.2 3268.6L428.9 3157.9M318.2 3290L428.9 3179.3M318.2 3311.4L428.9 3200.7M318.2 3332.8L428.9 3222.1M318.2 3354.2L428.9 3243.5M318.2 3375.6L428.9 3264.9M318.2 3397L428.9 3286.3M318.2 3418.4L428.9 3307.7M318.2 3439.8L428.9 3329.1M318.2 3461.2L428.9 3350.5M318.2 3482.6L428.9 3371.9M318.2 3504L428.9 3393.3M318.2 3525.4L428.9 3414.7M318.2 3546.8L428.9 3436.1M318.2 3568.2L428.9 3457.5M318.2 3589.6L428.9 3478.9M318.2 3611L428.9 3500.3M325.6 3625L428.9 3521.7M347 3625L428.9 3543.1M368.4 3625L428.9 3564.5M389.8 3625L428.9 3585.9M411.2 3625L428.9 3607.3M318.2 3611.4L331.8 3625M318.2 3590L353.2 3625M318.2 3568.6L374.6 3625M318.2 3547.2L396 3625M318.2 3525.8L417.4 3625M318.2 3504.4L428.9 3615.1M318.2 3483L428.9 3593.7M318.2 3461.6L428.9 3572.3M318.2 3440.2L428.9 3550.9M318.2 3418.8L428.9 3529.5M318.2 3397.4L428.9 3508.1M318.2 3376L428.9 3486.7M318.2 3354.6L428.9 3465.3M318.2 3333.2L428.9 3443.9M318.2 3311.8L428.9 3422.5M318.2 3290.4L428.9 3401.1M318.2 3269L428.9 3379.7M318.2 3247.6L428.9 3358.3M318.2 3226.2L428.9 3336.9M318.2 3204.8L428.9 3315.5M318.2 3183.4L428.9 3294.1M318.2 3162L428.9 3272.7M318.2 3140.6L428.9 3251.3M318.2 3119.2L428.9 3229.9M318.2 3097.8L428.9 3208.5M318.2 3076.4L428.9 3187.1M318.2 3055L428.9 3165.7M339.6 3055L428.9 3144.3M361 3055L428.9 3122.9M382.4 3055L428.9 3101.5M403.8 3055L428.9 3080.1M425.2 3055L428.9 3058.7" stroke-width="2.9"/><rect x="318.2" y="3055" width="110.7" height="570" stroke-width="4.2"/>
<path d="M428.9 3306.3H539.6M428.9 3328.2H539.6M428.9 3350.1H539.6M428.9 3372H539.6M428.9 3393.9H539.6M428.9 3415.8H539.6M428.9 3437.7H539.6M428.9 3459.6H539.6M428.9 3481.5H539.6M428.9 3503.4H539.6M428.9 3525.3H539.6M428.9 3547.2H539.6M428.9 3569.1H539.6M428.9 3591H539.6M428.9 3612.9H539.6" stroke-width="2.9"/><rect x="428.9" y="3283.2" width="110.7" height="341.8" stroke-width="4.2"/>
<path d="M539.6 3343.2L558 3324.8M539.6 3365.1L579.9 3324.8M539.6 3387L601.8 3324.8M539.6 3408.9L623.7 3324.8M539.6 3430.8L645.6 3324.8M539.6 3452.7L650.3 3342M539.6 3474.6L650.3 3363.9M539.6 3496.5L650.3 3385.8M539.6 3518.4L650.3 3407.7M539.6 3540.3L650.3 3429.6M539.6 3562.2L650.3 3451.5M539.6 3584.1L650.3 3473.4M539.6 3606L650.3 3495.3M542.5 3625L650.3 3517.2M564.4 3625L650.3 3539.1M586.3 3625L650.3 3561M608.2 3625L650.3 3582.9M630.1 3625L650.3 3604.8" stroke-width="2.9"/><rect x="539.6" y="3324.8" width="110.7" height="300.2" stroke-width="4.2"/>
<path d="M733 2761.3L754 2740.3M733 2782.7L775.4 2740.3M733 2804.1L796.8 2740.3M733 2825.5L818.2 2740.3M733 2846.9L839.6 2740.3M733 2868.3L843.7 2757.6M733 2889.7L843.7 2779M733 2911.1L843.7 2800.4M733 2932.5L843.7 2821.8M733 2953.9L843.7 2843.2M733 2975.3L843.7 2864.6M733 2996.7L843.7 2886M733 3018.1L843.7 2907.4M733 3039.5L843.7 2928.8M733 3060.9L843.7 2950.2M733 3082.3L843.7 2971.6M733 3103.7L843.7 2993M733 3125.1L843.7 3014.4M733 3146.5L843.7 3035.8M733 3167.9L843.7 3057.2M733 3189.3L843.7 3078.6M733 3210.7L843.7 3100M733 3232.1L843.7 3121.4M733 3253.5L843.7 3142.8M733 3274.9L843.7 3164.2M733 3296.3L843.7 3185.6M733 3317.7L843.7 3207M733 3339.1L843.7 3228.4M733 3360.5L843.7 3249.8M733 3381.9L843.7 3271.2M733 3403.3L843.7 3292.6M733 3424.7L843.7 3314M733 3446.1L843.7 3335.4M733 3467.5L843.7 3356.8M733 3488.9L843.7 3378.2M733 3510.3L843.7 3399.6M733 3531.7L843.7 3421M733 3553.1L843.7 3442.4M733 3574.5L843.7 3463.8M733 3595.9L843.7 3485.2M733 3617.3L843.7 3506.6M746.7 3625L843.7 3528M768.1 3625L843.7 3549.4M789.5 3625L843.7 3570.8M810.9 3625L843.7 3592.2M832.3 3625L843.7 3613.6M733 3617.7L740.3 3625M733 3596.3L761.7 3625M733 3574.9L783.1 3625M733 3553.5L804.5 3625M733 3532.1L825.9 3625M733 3510.7L843.7 3621.4M733 3489.3L843.7 3600M733 3467.9L843.7 3578.6M733 3446.5L843.7 3557.2M733 3425.1L843.7 3535.8M733 3403.7L843.7 3514.4M733 3382.3L843.7 3493M733 3360.9L843.7 3471.6M733 3339.5L843.7 3450.2M733 3318.1L843.7 3428.8M733 3296.7L843.7 3407.4M733 3275.3L843.7 3386M733 3253.9L843.7 3364.6M733 3232.5L843.7 3343.2M733 3211.1L843.7 3321.8M733 3189.7L843.7 3300.4M733 3168.3L843.7 3279M733 3146.9L843.7 3257.6M733 3125.5L843.7 3236.2M733 3104.1L843.7 3214.8M733 3082.7L843.7 3193.4M733 3061.3L843.7 3172M733 3039.9L843.7 3150.6M733 3018.5L843.7 3129.2M733 2997.1L843.7 3107.8M733 2975.7L843.7 3086.4M733 2954.3L843.7 3065M733 2932.9L843.7 3043.6M733 2911.5L843.7 3022.2M733 2890.1L843.7 3000.8M733 2868.7L843.7 2979.4M733 2847.3L843.7 2958M733 2825.9L843.7 2936.6M733 2804.5L843.7 2915.2M733 2783.1L843.7 2893.8M733 2761.7L843.7 2872.4M733 2740.3L843.7 2851M754.4 2740.3L843.7 2829.6M775.8 2740.3L843.7 2808.2M797.2 2740.3L843.7 2786.8M818.6 2740.3L843.7 2765.4M840 2740.3L843.7 2744" stroke-width="2.9"/><rect x="733" y="2740.3" width="110.7" height="884.7" stroke-width="4.2"/>
<path d="M843.7 3089.3H954.4M843.7 3111.2H954.4M843.7 3133.1H954.4M843.7 3155H954.4M843.7 3176.9H954.4M843.7 3198.8H954.4M843.7 3220.7H954.4M843.7 3242.6H954.4M843.7 3264.5H954.4M843.7 3286.4H954.4M843.7 3308.3H954.4M843.7 3330.2H954.4M843.7 3352.1H954.4M843.7 3374H954.4M843.7 3395.9H954.4M843.7 3417.8H954.4M843.7 3439.7H954.4M843.7 3461.6H954.4M843.7 3483.5H954.4M843.7 3505.4H954.4M843.7 3527.3H954.4M843.7 3549.2H954.4M843.7 3571.1H954.4M843.7 3593H954.4M843.7 3614.9H954.4" stroke-width="2.9"/><rect x="843.7" y="3066.2" width="110.7" height="558.8" stroke-width="4.2"/>
<path d="M954.4 3156.2L972.8 3137.8M954.4 3178.1L994.7 3137.8M954.4 3200L1016.6 3137.8M954.4 3221.9L1038.5 3137.8M954.4 3243.8L1060.4 3137.8M954.4 3265.7L1065.1 3155M954.4 3287.6L1065.1 3176.9M954.4 3309.5L1065.1 3198.8M954.4 3331.4L1065.1 3220.7M954.4 3353.3L1065.1 3242.6M954.4 3375.2L1065.1 3264.5M954.4 3397.1L1065.1 3286.4M954.4 3419L1065.1 3308.3M954.4 3440.9L1065.1 3330.2M954.4 3462.8L1065.1 3352.1M954.4 3484.7L1065.1 3374M954.4 3506.6L1065.1 3395.9M954.4 3528.5L1065.1 3417.8M954.4 3550.4L1065.1 3439.7M954.4 3572.3L1065.1 3461.6M954.4 3594.2L1065.1 3483.5M954.4 3616.1L1065.1 3505.4M967.4 3625L1065.1 3527.3M989.3 3625L1065.1 3549.2M1011.2 3625L1065.1 3571.1M1033.1 3625L1065.1 3593M1055 3625L1065.1 3614.9" stroke-width="2.9"/><rect x="954.4" y="3137.8" width="110.7" height="487.2" stroke-width="4.2"/>
<path d="M1147.8 2509.6L1168.8 2488.6M1147.8 2531L1190.2 2488.6M1147.8 2552.4L1211.6 2488.6M1147.8 2573.8L1233 2488.6M1147.8 2595.2L1254.4 2488.6M1147.8 2616.6L1258.5 2505.9M1147.8 2638L1258.5 2527.3M1147.8 2659.4L1258.5 2548.7M1147.8 2680.8L1258.5 2570.1M1147.8 2702.2L1258.5 2591.5M1147.8 2723.6L1258.5 2612.9M1147.8 2745L1258.5 2634.3M1147.8 2766.4L1258.5 2655.7M1147.8 2787.8L1258.5 2677.1M1147.8 2809.2L1258.5 2698.5M1147.8 2830.6L1258.5 2719.9M1147.8 2852L1258.5 2741.3M1147.8 2873.4L1258.5 2762.7M1147.8 2894.8L1258.5 2784.1M1147.8 2916.2L1258.5 2805.5M1147.8 2937.6L1258.5 2826.9M1147.8 2959L1258.5 2848.3M1147.8 2980.4L1258.5 2869.7M1147.8 3001.8L1258.5 2891.1M1147.8 3023.2L1258.5 2912.5M1147.8 3044.6L1258.5 2933.9M1147.8 3066L1258.5 2955.3M1147.8 3087.4L1258.5 2976.7M1147.8 3108.8L1258.5 2998.1M1147.8 3130.2L1258.5 3019.5M1147.8 3151.6L1258.5 3040.9M1147.8 3173L1258.5 3062.3M1147.8 3194.4L1258.5 3083.7M1147.8 3215.8L1258.5 3105.1M1147.8 3237.2L1258.5 3126.5M1147.8 3258.6L1258.5 3147.9M1147.8 3280L1258.5 3169.3M1147.8 3301.4L1258.5 3190.7M1147.8 3322.8L1258.5 3212.1M1147.8 3344.2L1258.5 3233.5M1147.8 3365.6L1258.5 3254.9M1147.8 3387L1258.5 3276.3M1147.8 3408.4L1258.5 3297.7M1147.8 3429.8L1258.5 3319.1M1147.8 3451.2L1258.5 3340.5M1147.8 3472.6L1258.5 3361.9M1147.8 3494L1258.5 3383.3M1147.8 3515.4L1258.5 3404.7M1147.8 3536.8L1258.5 3426.1M1147.8 3558.2L1258.5 3447.5M1147.8 3579.6L1258.5 3468.9M1147.8 3601L1258.5 3490.3M1147.8 3622.4L1258.5 3511.7M1166.6 3625L1258.5 3533.1M1188 3625L1258.5 3554.5M1209.4 3625L1258.5 3575.9M1230.8 3625L1258.5 3597.3M1252.2 3625L1258.5 3618.7M1147.8 3622.8L1150 3625M1147.8 3601.4L1171.4 3625M1147.8 3580L1192.8 3625M1147.8 3558.6L1214.2 3625M1147.8 3537.2L1235.6 3625M1147.8 3515.8L1257 3625M1147.8 3494.4L1258.5 3605.1M1147.8 3473L1258.5 3583.7M1147.8 3451.6L1258.5 3562.3M1147.8 3430.2L1258.5 3540.9M1147.8 3408.8L1258.5 3519.5M1147.8 3387.4L1258.5 3498.1M1147.8 3366L1258.5 3476.7M1147.8 3344.6L1258.5 3455.3M1147.8 3323.2L1258.5 3433.9M1147.8 3301.8L1258.5 3412.5M1147.8 3280.4L1258.5 3391.1M1147.8 3259L1258.5 3369.7M1147.8 3237.6L1258.5 3348.3M1147.8 3216.2L1258.5 3326.9M1147.8 3194.8L1258.5 3305.5M1147.8 3173.4L1258.5 3284.1M1147.8 3152L1258.5 3262.7M1147.8 3130.6L1258.5 3241.3M1147.8 3109.2L1258.5 3219.9M1147.8 3087.8L1258.5 3198.5M1147.8 3066.4L1258.5 3177.1M1147.8 3045L1258.5 3155.7M1147.8 3023.6L1258.5 3134.3M1147.8 3002.2L1258.5 3112.9M1147.8 2980.8L1258.5 3091.5M1147.8 2959.4L1258.5 3070.1M1147.8 2938L1258.5 3048.7M1147.8 2916.6L1258.5 3027.3M1147.8 2895.2L1258.5 3005.9M1147.8 2873.8L1258.5 2984.5M1147.8 2852.4L1258.5 2963.1M1147.8 2831L1258.5 2941.7M1147.8 2809.6L1258.5 2920.3M1147.8 2788.2L1258.5 2898.9M1147.8 2766.8L1258.5 2877.5M1147.8 2745.4L1258.5 2856.1M1147.8 2724L1258.5 2834.7M1147.8 2702.6L1258.5 2813.3M1147.8 2681.2L1258.5 2791.9M1147.8 2659.8L1258.5 2770.5M1147.8 2638.4L1258.5 2749.1M1147.8 2617L1258.5 2727.7M1147.8 2595.6L1258.5 2706.3M1147.8 2574.2L1258.5 2684.9M1147.8 2552.8L1258.5 2663.5M1147.8 2531.4L1258.5 2642.1M1147.8 2510L1258.5 2620.7M1147.8 2488.6L1258.5 2599.3M1169.2 2488.6L1258.5 2577.9M1190.6 2488.6L1258.5 2556.5M1212 2488.6L1258.5 2535.1M1233.4 2488.6L1258.5 2513.7M1254.8 2488.6L1258.5 2492.3" stroke-width="2.9"/><rect x="1147.8" y="2488.6" width="110.7" height="1136.4" stroke-width="4.2"/>
<path d="M1258.5 2926.4H1369.2M1258.5 2948.3H1369.2M1258.5 2970.2H1369.2M1258.5 2992.1H1369.2M1258.5 3014H1369.2M1258.5 3035.9H1369.2M1258.5 3057.8H1369.2M1258.5 3079.7H1369.2M1258.5 3101.6H1369.2M1258.5 3123.5H1369.2M1258.5 3145.4H1369.2M1258.5 3167.3H1369.2M1258.5 3189.2H1369.2M1258.5 3211.1H1369.2M1258.5 3233H1369.2M1258.5 3254.9H1369.2M1258.5 3276.8H1369.2M1258.5 3298.7H1369.2M1258.5 3320.6H1369.2M1258.5 3342.5H1369.2M1258.5 3364.4H1369.2M1258.5 3386.3H1369.2M1258.5 3408.2H1369.2M1258.5 3430.1H1369.2M1258.5 3452H1369.2M1258.5 3473.9H1369.2M1258.5 3495.8H1369.2M1258.5 3517.7H1369.2M1258.5 3539.6H1369.2M1258.5 3561.5H1369.2M1258.5 3583.4H1369.2M1258.5 3605.3H1369.2" stroke-width="2.9"/><rect x="1258.5" y="2903.3" width="110.7" height="721.7" stroke-width="4.2"/>
<path d="M1369.2 3000.3L1387.6 2981.9M1369.2 3022.2L1409.5 2981.9M1369.2 3044.1L1431.4 2981.9M1369.2 3066L1453.3 2981.9M1369.2 3087.9L1475.2 2981.9M1369.2 3109.8L1479.9 2999.1M1369.2 3131.7L1479.9 3021M1369.2 3153.6L1479.9 3042.9M1369.2 3175.5L1479.9 3064.8M1369.2 3197.4L1479.9 3086.7M1369.2 3219.3L1479.9 3108.6M1369.2 3241.2L1479.9 3130.5M1369.2 3263.1L1479.9 3152.4M1369.2 3285L1479.9 3174.3M1369.2 3306.9L1479.9 3196.2M1369.2 3328.8L1479.9 3218.1M1369.2 3350.7L1479.9 3240M1369.2 3372.6L1479.9 3261.9M1369.2 3394.5L1479.9 3283.8M1369.2 3416.4L1479.9 3305.7M1369.2 3438.3L1479.9 3327.6M1369.2 3460.2L1479.9 3349.5M1369.2 3482.1L1479.9 3371.4M1369.2 3504L1479.9 3393.3M1369.2 3525.9L1479.9 3415.2M1369.2 3547.8L1479.9 3437.1M1369.2 3569.7L1479.9 3459M1369.2 3591.6L1479.9 3480.9M1369.2 3613.5L1479.9 3502.8M1379.6 3625L1479.9 3524.7M1401.5 3625L1479.9 3546.6M1423.4 3625L1479.9 3568.5M1445.3 3625L1479.9 3590.4M1467.2 3625L1479.9 3612.3" stroke-width="2.9"/><rect x="1369.2" y="2981.9" width="110.7" height="643.1" stroke-width="4.2"/>
<path d="M1562.6 2361.4L1583.6 2340.4M1562.6 2382.8L1605 2340.4M1562.6 2404.2L1626.4 2340.4M1562.6 2425.6L1647.8 2340.4M1562.6 2447L1669.2 2340.4M1562.6 2468.4L1673.3 2357.7M1562.6 2489.8L1673.3 2379.1M1562.6 2511.2L1673.3 2400.5M1562.6 2532.6L1673.3 2421.9M1562.6 2554L1673.3 2443.3M1562.6 2575.4L1673.3 2464.7M1562.6 2596.8L1673.3 2486.1M1562.6 2618.2L1673.3 2507.5M1562.6 2639.6L1673.3 2528.9M1562.6 2661L1673.3 2550.3M1562.6 2682.4L1673.3 2571.7M1562.6 2703.8L1673.3 2593.1M1562.6 2725.2L1673.3 2614.5M1562.6 2746.6L1673.3 2635.9M1562.6 2768L1673.3 2657.3M1562.6 2789.4L1673.3 2678.7M1562.6 2810.8L1673.3 2700.1M1562.6 2832.2L1673.3 2721.5M1562.6 2853.6L1673.3 2742.9M1562.6 2875L1673.3 2764.3M1562.6 2896.4L1673.3 2785.7M1562.6 2917.8L1673.3 2807.1M1562.6 2939.2L1673.3 2828.5M1562.6 2960.6L1673.3 2849.9M1562.6 2982L1673.3 2871.3M1562.6 3003.4L1673.3 2892.7M1562.6 3024.8L1673.3 2914.1M1562.6 3046.2L1673.3 2935.5M1562.6 3067.6L1673.3 2956.9M1562.6 3089L1673.3 2978.3M1562.6 3110.4L1673.3 2999.7M1562.6 3131.8L1673.3 3021.1M1562.6 3153.2L1673.3 3042.5M1562.6 3174.6L1673.3 3063.9M1562.6 3196L1673.3 3085.3M1562.6 3217.4L1673.3 3106.7M1562.6 3238.8L1673.3 3128.1M1562.6 3260.2L1673.3 3149.5M1562.6 3281.6L1673.3 3170.9M1562.6 3303L1673.3 3192.3M1562.6 3324.4L1673.3 3213.7M1562.6 3345.8L1673.3 3235.1M1562.6 3367.2L1673.3 3256.5M1562.6 3388.6L1673.3 3277.9M1562.6 3410L1673.3 3299.3M1562.6 3431.4L1673.3 3320.7M1562.6 3452.8L1673.3 3342.1M1562.6 3474.2L1673.3 3363.5M1562.6 3495.6L1673.3 3384.9M1562.6 3517L1673.3 3406.3M1562.6 3538.4L1673.3 3427.7M1562.6 3559.8L1673.3 3449.1M1562.6 3581.2L1673.3 3470.5M1562.6 3602.6L1673.3 3491.9M1562.6 3624L1673.3 3513.3M1583 3625L1673.3 3534.7M1604.4 3625L1673.3 3556.1M1625.8 3625L1673.3 3577.5M1647.2 3625L1673.3 3598.9M1668.6 3625L1673.3 3620.3M1562.6 3624.4L1563.2 3625M1562.6 3603L1584.6 3625M1562.6 3581.6L1606 3625M1562.6 3560.2L1627.4 3625M1562.6 3538.8L1648.8 3625M1562.6 3517.4L1670.2 3625M1562.6 3496L1673.3 3606.7M1562.6 3474.6L1673.3 3585.3M1562.6 3453.2L1673.3 3563.9M1562.6 3431.8L1673.3 3542.5M1562.6 3410.4L1673.3 3521.1M1562.6 3389L1673.3 3499.7M1562.6 3367.6L1673.3 3478.3M1562.6 3346.2L1673.3 3456.9M1562.6 3324.8L1673.3 3435.5M1562.6 3303.4L1673.3 3414.1M1562.6 3282L1673.3 3392.7M1562.6 3260.6L1673.3 3371.3M1562.6 3239.2L1673.3 3349.9M1562.6 3217.8L1673.3 3328.5M1562.6 3196.4L1673.3 3307.1M1562.6 3175L1673.3 3285.7M1562.6 3153.6L1673.3 3264.3M1562.6 3132.2L1673.3 3242.9M1562.6 3110.8L1673.3 3221.5M1562.6 3089.4L1673.3 3200.1M1562.6 3068L1673.3 3178.7M1562.6 3046.6L1673.3 3157.3M1562.6 3025.2L1673.3 3135.9M1562.6 3003.8L1673.3 3114.5M1562.6 2982.4L1673.3 3093.1M1562.6 2961L1673.3 3071.7M1562.6 2939.6L1673.3 3050.3M1562.6 2918.2L1673.3 3028.9M1562.6 2896.8L1673.3 3007.5M1562.6 2875.4L1673.3 2986.1M1562.6 2854L1673.3 2964.7M1562.6 2832.6L1673.3 2943.3M1562.6 2811.2L1673.3 2921.9M1562.6 2789.8L1673.3 2900.5M1562.6 2768.4L1673.3 2879.1M1562.6 2747L1673.3 2857.7M1562.6 2725.6L1673.3 2836.3M1562.6 2704.2L1673.3 2814.9M1562.6 2682.8L1673.3 2793.5M1562.6 2661.4L1673.3 2772.1M1562.6 2640L1673.3 2750.7M1562.6 2618.6L1673.3 2729.3M1562.6 2597.2L1673.3 2707.9M1562.6 2575.8L1673.3 2686.5M1562.6 2554.4L1673.3 2665.1M1562.6 2533L1673.3 2643.7M1562.6 2511.6L1673.3 2622.3M1562.6 2490.2L1673.3 2600.9M1562.6 2468.8L1673.3 2579.5M1562.6 2447.4L1673.3 2558.1M1562.6 2426L1673.3 2536.7M1562.6 2404.6L1673.3 2515.3M1562.6 2383.2L1673.3 2493.9M1562.6 2361.8L1673.3 2472.5M1562.6 2340.4L1673.3 2451.1M1584 2340.4L1673.3 2429.7M1605.4 2340.4L1673.3 2408.3M1626.8 2340.4L1673.3 2386.9M1648.2 2340.4L1673.3 2365.5M1669.6 2340.4L1673.3 2344.1" stroke-width="2.9"/><rect x="1562.6" y="2340.4" width="110.7" height="1284.6" stroke-width="4.2"/>
<path d="M1673.3 2821H1784M1673.3 2842.9H1784M1673.3 2864.8H1784M1673.3 2886.7H1784M1673.3 2908.6H1784M1673.3 2930.5H1784M1673.3 2952.4H1784M1673.3 2974.3H1784M1673.3 2996.2H1784M1673.3 3018.1H1784M1673.3 3040H1784M1673.3 3061.9H1784M1673.3 3083.8H1784M1673.3 3105.7H1784M1673.3 3127.6H1784M1673.3 3149.5H1784M1673.3 3171.4H1784M1673.3 3193.3H1784M1673.3 3215.2H1784M1673.3 3237.1H1784M1673.3 3259H1784M1673.3 3280.9H1784M1673.3 3302.8H1784M1673.3 3324.7H1784M1673.3 3346.6H1784M1673.3 3368.5H1784M1673.3 3390.4H1784M1673.3 3412.3H1784M1673.3 3434.2H1784M1673.3 3456.1H1784M1673.3 3478H1784M1673.3 3499.9H1784M1673.3 3521.8H1784M1673.3 3543.7H1784M1673.3 3565.6H1784M1673.3 3587.5H1784M1673.3 3609.4H1784" stroke-width="2.9"/><rect x="1673.3" y="2797.9" width="110.7" height="827.1" stroke-width="4.2"/>
<path d="M1784 2900.9L1802.4 2882.5M1784 2922.8L1824.3 2882.5M1784 2944.7L1846.2 2882.5M1784 2966.6L1868.1 2882.5M1784 2988.5L1890 2882.5M1784 3010.4L1894.7 2899.7M1784 3032.3L1894.7 2921.6M1784 3054.2L1894.7 2943.5M1784 3076.1L1894.7 2965.4M1784 3098L1894.7 2987.3M1784 3119.9L1894.7 3009.2M1784 3141.8L1894.7 3031.1M1784 3163.7L1894.7 3053M1784 3185.6L1894.7 3074.9M1784 3207.5L1894.7 3096.8M1784 3229.4L1894.7 3118.7M1784 3251.3L1894.7 3140.6M1784 3273.2L1894.7 3162.5M1784 3295.1L1894.7 3184.4M1784 3317L1894.7 3206.3M1784 3338.9L1894.7 3228.2M1784 3360.8L1894.7 3250.1M1784 3382.7L1894.7 3272M1784 3404.6L1894.7 3293.9M1784 3426.5L1894.7 3315.8M1784 3448.4L1894.7 3337.7M1784 3470.3L1894.7 3359.6M1784 3492.2L1894.7 3381.5M1784 3514.1L1894.7 3403.4M1784 3536L1894.7 3425.3M1784 3557.9L1894.7 3447.2M1784 3579.8L1894.7 3469.1M1784 3601.7L1894.7 3491M1784 3623.6L1894.7 3512.9M1804.5 3625L1894.7 3534.8M1826.4 3625L1894.7 3556.7M1848.3 3625L1894.7 3578.6M1870.2 3625L1894.7 3600.5M1892.1 3625L1894.7 3622.4" stroke-width="2.9"/><rect x="1784" y="2882.5" width="110.7" height="742.5" stroke-width="4.2"/>
<path d="M1977.4 2238.7L1998.4 2217.7M1977.4 2260.1L2019.8 2217.7M1977.4 2281.5L2041.2 2217.7M1977.4 2302.9L2062.6 2217.7M1977.4 2324.3L2084 2217.7M1977.4 2345.7L2088.1 2235M1977.4 2367.1L2088.1 2256.4M1977.4 2388.5L2088.1 2277.8M1977.4 2409.9L2088.1 2299.2M1977.4 2431.3L2088.1 2320.6M1977.4 2452.7L2088.1 2342M1977.4 2474.1L2088.1 2363.4M1977.4 2495.5L2088.1 2384.8M1977.4 2516.9L2088.1 2406.2M1977.4 2538.3L2088.1 2427.6M1977.4 2559.7L2088.1 2449M1977.4 2581.1L2088.1 2470.4M1977.4 2602.5L2088.1 2491.8M1977.4 2623.9L2088.1 2513.2M1977.4 2645.3L2088.1 2534.6M1977.4 2666.7L2088.1 2556M1977.4 2688.1L2088.1 2577.4M1977.4 2709.5L2088.1 2598.8M1977.4 2730.9L2088.1 2620.2M1977.4 2752.3L2088.1 2641.6M1977.4 2773.7L2088.1 2663M1977.4 2795.1L2088.1 2684.4M1977.4 2816.5L2088.1 2705.8M1977.4 2837.9L2088.1 2727.2M1977.4 2859.3L2088.1 2748.6M1977.4 2880.7L2088.1 2770M1977.4 2902.1L2088.1 2791.4M1977.4 2923.5L2088.1 2812.8M1977.4 2944.9L2088.1 2834.2M1977.4 2966.3L2088.1 2855.6M1977.4 2987.7L2088.1 2877M1977.4 3009.1L2088.1 2898.4M1977.4 3030.5L2088.1 2919.8M1977.4 3051.9L2088.1 2941.2M1977.4 3073.3L2088.1 2962.6M1977.4 3094.7L2088.1 2984M1977.4 3116.1L2088.1 3005.4M1977.4 3137.5L2088.1 3026.8M1977.4 3158.9L2088.1 3048.2M1977.4 3180.3L2088.1 3069.6M1977.4 3201.7L2088.1 3091M1977.4 3223.1L2088.1 3112.4M1977.4 3244.5L2088.1 3133.8M1977.4 3265.9L2088.1 3155.2M1977.4 3287.3L2088.1 3176.6M1977.4 3308.7L2088.1 3198M1977.4 3330.1L2088.1 3219.4M1977.4 3351.5L2088.1 3240.8M1977.4 3372.9L2088.1 3262.2M1977.4 3394.3L2088.1 3283.6M1977.4 3415.7L2088.1 3305M1977.4 3437.1L2088.1 3326.4M1977.4 3458.5L2088.1 3347.8M1977.4 3479.9L2088.1 3369.2M1977.4 3501.3L2088.1 3390.6M1977.4 3522.7L2088.1 3412M1977.4 3544.1L2088.1 3433.4M1977.4 3565.5L2088.1 3454.8M1977.4 3586.9L2088.1 3476.2M1977.4 3608.3L2088.1 3497.6M1982.1 3625L2088.1 3519M2003.5 3625L2088.1 3540.4M2024.9 3625L2088.1 3561.8M2046.3 3625L2088.1 3583.2M2067.7 3625L2088.1 3604.6M1977.4 3608.7L1993.7 3625M1977.4 3587.3L2015.1 3625M1977.4 3565.9L2036.5 3625M1977.4 3544.5L2057.9 3625M1977.4 3523.1L2079.3 3625M1977.4 3501.7L2088.1 3612.4M1977.4 3480.3L2088.1 3591M1977.4 3458.9L2088.1 3569.6M1977.4 3437.5L2088.1 3548.2M1977.4 3416.1L2088.1 3526.8M1977.4 3394.7L2088.1 3505.4M1977.4 3373.3L2088.1 3484M1977.4 3351.9L2088.1 3462.6M1977.4 3330.5L2088.1 3441.2M1977.4 3309.1L2088.1 3419.8M1977.4 3287.7L2088.1 3398.4M1977.4 3266.3L2088.1 3377M1977.4 3244.9L2088.1 3355.6M1977.4 3223.5L2088.1 3334.2M1977.4 3202.1L2088.1 3312.8M1977.4 3180.7L2088.1 3291.4M1977.4 3159.3L2088.1 3270M1977.4 3137.9L2088.1 3248.6M1977.4 3116.5L2088.1 3227.2M1977.4 3095.1L2088.1 3205.8M1977.4 3073.7L2088.1 3184.4M1977.4 3052.3L2088.1 3163M1977.4 3030.9L2088.1 3141.6M1977.4 3009.5L2088.1 3120.2M1977.4 2988.1L2088.1 3098.8M1977.4 2966.7L2088.1 3077.4M1977.4 2945.3L2088.1 3056M1977.4 2923.9L2088.1 3034.6M1977.4 2902.5L2088.1 3013.2M1977.4 2881.1L2088.1 2991.8M1977.4 2859.7L2088.1 2970.4M1977.4 2838.3L2088.1 2949M1977.4 2816.9L2088.1 2927.6M1977.4 2795.5L2088.1 2906.2M1977.4 2774.1L2088.1 2884.8M1977.4 2752.7L2088.1 2863.4M1977.4 2731.3L2088.1 2842M1977.4 2709.9L2088.1 2820.6M1977.4 2688.5L2088.1 2799.2M1977.4 2667.1L2088.1 2777.8M1977.4 2645.7L2088.1 2756.4M1977.4 2624.3L2088.1 2735M1977.4 2602.9L2088.1 2713.6M1977.4 2581.5L2088.1 2692.2M1977.4 2560.1L2088.1 2670.8M1977.4 2538.7L2088.1 2649.4M1977.4 2517.3L2088.1 2628M1977.4 2495.9L2088.1 2606.6M1977.4 2474.5L2088.1 2585.2M1977.4 2453.1L2088.1 2563.8M1977.4 2431.7L2088.1 2542.4M1977.4 2410.3L2088.1 2521M1977.4 2388.9L2088.1 2499.6M1977.4 2367.5L2088.1 2478.2M1977.4 2346.1L2088.1 2456.8M1977.4 2324.7L2088.1 2435.4M1977.4 2303.3L2088.1 2414M1977.4 2281.9L2088.1 2392.6M1977.4 2260.5L2088.1 2371.2M1977.4 2239.1L2088.1 2349.8M1977.4 2217.7L2088.1 2328.4M1998.8 2217.7L2088.1 2307M2020.2 2217.7L2088.1 2285.6M2041.6 2217.7L2088.1 2264.2M2063 2217.7L2088.1 2242.8M2084.4 2217.7L2088.1 2221.4" stroke-width="2.9"/><rect x="1977.4" y="2217.7" width="110.7" height="1407.3" stroke-width="4.2"/>
<path d="M2088.1 2725.3H2198.8M2088.1 2747.2H2198.8M2088.1 2769.1H2198.8M2088.1 2791H2198.8M2088.1 2812.9H2198.8M2088.1 2834.8H2198.8M2088.1 2856.7H2198.8M2088.1 2878.6H2198.8M2088.1 2900.5H2198.8M2088.1 2922.4H2198.8M2088.1 2944.3H2198.8M2088.1 2966.2H2198.8M2088.1 2988.1H2198.8M2088.1 3010H2198.8M2088.1 3031.9H2198.8M2088.1 3053.8H2198.8M2088.1 3075.7H2198.8M2088.1 3097.6H2198.8M2088.1 3119.5H2198.8M2088.1 3141.4H2198.8M2088.1 3163.3H2198.8M2088.1 3185.2H2198.8M2088.1 3207.1H2198.8M2088.1 3229H2198.8M2088.1 3250.9H2198.8M2088.1 3272.8H2198.8M2088.1 3294.7H2198.8M2088.1 3316.6H2198.8M2088.1 3338.5H2198.8M2088.1 3360.4H2198.8M2088.1 3382.3H2198.8M2088.1 3404.2H2198.8M2088.1 3426.1H2198.8M2088.1 3448H2198.8M2088.1 3469.9H2198.8M2088.1 3491.8H2198.8M2088.1 3513.7H2198.8M2088.1 3535.6H2198.8M2088.1 3557.5H2198.8M2088.1 3579.4H2198.8M2088.1 3601.3H2198.8" stroke-width="2.9"/><rect x="2088.1" y="2702.2" width="110.7" height="922.8" stroke-width="4.2"/>
<path d="M2198.8 2817.5L2217.2 2799.1M2198.8 2839.4L2239.1 2799.1M2198.8 2861.3L2261 2799.1M2198.8 2883.2L2282.9 2799.1M2198.8 2905.1L2304.8 2799.1M2198.8 2927L2309.5 2816.3M2198.8 2948.9L2309.5 2838.2M2198.8 2970.8L2309.5 2860.1M2198.8 2992.7L2309.5 2882M2198.8 3014.6L2309.5 2903.9M2198.8 3036.5L2309.5 2925.8M2198.8 3058.4L2309.5 2947.7M2198.8 3080.3L2309.5 2969.6M2198.8 3102.2L2309.5 2991.5M2198.8 3124.1L2309.5 3013.4M2198.8 3146L2309.5 3035.3M2198.8 3167.9L2309.5 3057.2M2198.8 3189.8L2309.5 3079.1M2198.8 3211.7L2309.5 3101M2198.8 3233.6L2309.5 3122.9M2198.8 3255.5L2309.5 3144.8M2198.8 3277.4L2309.5 3166.7M2198.8 3299.3L2309.5 3188.6M2198.8 3321.2L2309.5 3210.5M2198.8 3343.1L2309.5 3232.4M2198.8 3365L2309.5 3254.3M2198.8 3386.9L2309.5 3276.2M2198.8 3408.8L2309.5 3298.1M2198.8 3430.7L2309.5 3320M2198.8 3452.6L2309.5 3341.9M2198.8 3474.5L2309.5 3363.8M2198.8 3496.4L2309.5 3385.7M2198.8 3518.3L2309.5 3407.6M2198.8 3540.2L2309.5 3429.5M2198.8 3562.1L2309.5 3451.4M2198.8 3584L2309.5 3473.3M2198.8 3605.9L2309.5 3495.2M2201.6 3625L2309.5 3517.1M2223.5 3625L2309.5 3539M2245.4 3625L2309.5 3560.9M2267.3 3625L2309.5 3582.8M2289.2 3625L2309.5 3604.7" stroke-width="2.9"/><rect x="2198.8" y="2799.1" width="110.7" height="825.9" stroke-width="4.2"/>
<path d="M372.9 2954.5V3154.9" stroke-width="3.6"/><path d="M356.7 2954.5H389.2M356.7 3154.9H389.2" stroke-width="3"/>
<path d="M483.6 3232.4V3335" stroke-width="3.6"/><path d="M467.4 3232.4H499.9M467.4 3335H499.9" stroke-width="3"/>
<path d="M594.4 3274.6V3372.4" stroke-width="3.6"/><path d="M578.1 3274.6H610.6M578.1 3372.4H610.6" stroke-width="3"/>
<path d="M787.8 2631.9V2848.8" stroke-width="3.6"/><path d="M771.5 2631.9H804M771.5 2848.8H804" stroke-width="3"/>
<path d="M898.5 3009.6V3121.2" stroke-width="3.6"/><path d="M882.2 3009.6H914.7M882.2 3121.2H914.7" stroke-width="3"/>
<path d="M1009.1 3051.8V3221.2" stroke-width="3.6"/><path d="M992.9 3051.8H1025.4M992.9 3221.2H1025.4" stroke-width="3"/>
<path d="M1202.5 2404.2V2572.5" stroke-width="3.6"/><path d="M1186.3 2404.2H1218.8M1186.3 2572.5H1218.8" stroke-width="3"/>
<path d="M1313.2 2850.4V2954.1" stroke-width="3.6"/><path d="M1297 2850.4H1329.5M1297 2954.1H1329.5" stroke-width="3"/>
<path d="M1424 2874.5V3086.1" stroke-width="3.6"/><path d="M1407.7 2874.5H1440.2M1407.7 3086.1H1440.2" stroke-width="3"/>
<path d="M1617.4 2248.4V2429.3" stroke-width="3.6"/><path d="M1601.1 2248.4H1633.6M1601.1 2429.3H1633.6" stroke-width="3"/>
<path d="M1728.1 2738.4V2854.9" stroke-width="3.6"/><path d="M1711.8 2738.4H1744.3M1711.8 2854.9H1744.3" stroke-width="3"/>
<path d="M1838.8 2761.1V3002.1" stroke-width="3.6"/><path d="M1822.5 2761.1H1855M1822.5 3002.1H1855" stroke-width="3"/>
<path d="M2032.2 2143.5V2290.7" stroke-width="3.6"/><path d="M2015.9 2143.5H2048.4M2015.9 2290.7H2048.4" stroke-width="3"/>
<path d="M2142.8 2651.3V2751.9" stroke-width="3.6"/><path d="M2126.6 2651.3H2159.1M2126.6 2751.9H2159.1" stroke-width="3"/>
<path d="M2253.6 2653.1V2943.2" stroke-width="3.6"/><path d="M2237.3 2653.1H2269.8M2237.3 2943.2H2269.8" stroke-width="3"/>
<rect x="234.6" y="2038.4" width="2157.9" height="1586.6" stroke-width="6.2" stroke-linejoin="round"/>
<path d="M234.6 3625H200.1M2392.5 3625H2358M234.6 3438.4H216.3M2392.5 3438.4H2374.2M234.6 3251.7H200.1M2392.5 3251.7H2358M234.6 3065.1H216.3M2392.5 3065.1H2374.2M234.6 2878.4H200.1M2392.5 2878.4H2358M234.6 2691.8H216.3M2392.5 2691.8H2374.2M234.6 2505.2H200.1M2392.5 2505.2H2358M234.6 2318.5H216.3M2392.5 2318.5H2374.2M234.6 2131.9H200.1M2392.5 2131.9H2358M482.7 3625V3660.3M898.1 3625V3660.3M1313.5 3625V3660.3M1728.9 3625V3660.3M2144.3 3625V3660.3" stroke-width="6.2"/>
<rect x="351.5" y="2165.8" width="390.1" height="290" stroke-width="3"/>
<path d="M363.2 2204.5L384.2 2183.5M363.2 2225.9L405.6 2183.5M363.2 2247.3L427 2183.5M381.2 2250.7L448.4 2183.5M402.6 2250.7L469.8 2183.5M424 2250.7L491.2 2183.5M445.4 2250.7L512.6 2183.5M466.8 2250.7L534 2183.5M488.2 2250.7L535.8 2203.1M509.6 2250.7L535.8 2224.5M531 2250.7L535.8 2245.9M363.2 2247.7L366.2 2250.7M363.2 2226.3L387.6 2250.7M363.2 2204.9L409 2250.7M363.2 2183.5L430.4 2250.7M384.6 2183.5L451.8 2250.7M406 2183.5L473.2 2250.7M427.4 2183.5L494.6 2250.7M448.8 2183.5L516 2250.7M470.2 2183.5L535.8 2249.1M491.6 2183.5L535.8 2227.7M513 2183.5L535.8 2206.3M534.4 2183.5L535.8 2184.9" stroke-width="2.9"/><rect x="363.2" y="2183.5" width="172.6" height="67.2" stroke-width="4.3"/>
<path d="M363.2 2303H535.8M363.2 2324H535.8" stroke-width="2.9"/><rect x="363.2" y="2279.9" width="172.6" height="67.2" stroke-width="4.3"/>
<path d="M363.2 2394.2L381.1 2376.3M363.2 2415.6L402.5 2376.3M363.2 2437L423.9 2376.3M378.1 2443.5L445.3 2376.3M399.5 2443.5L466.7 2376.3M420.9 2443.5L488.1 2376.3M442.3 2443.5L509.5 2376.3M463.7 2443.5L530.9 2376.3M485.1 2443.5L535.8 2392.8M506.5 2443.5L535.8 2414.2M527.9 2443.5L535.8 2435.6" stroke-width="2.9"/><rect x="363.2" y="2376.3" width="172.6" height="67.2" stroke-width="4.3"/>
</g>
<text transform="translate(145.50 3640.40) scale(0.9149 0.9427)" font-family="'Liberation Sans', Arial, sans-serif" font-size="66" stroke="#000" stroke-width="0.8" stroke-linejoin="round" style="font-kerning:none">0</text>
<text transform="translate(109.00 3267.46) scale(0.9626 0.9419)" font-family="'Liberation Sans', Arial, sans-serif" font-size="66" stroke="#000" stroke-width="0.8" stroke-linejoin="round" style="font-kerning:none">20</text>
<text transform="translate(108.60 2893.82) scale(0.9628 0.9419)" font-family="'Liberation Sans', Arial, sans-serif" font-size="66" stroke="#000" stroke-width="0.8" stroke-linejoin="round" style="font-kerning:none">40</text>
<text transform="translate(109.00 2521.18) scale(0.9626 0.9419)" font-family="'Liberation Sans', Arial, sans-serif" font-size="66" stroke="#000" stroke-width="0.8" stroke-linejoin="round" style="font-kerning:none">60</text>
<text transform="translate(109.00 2147.54) scale(0.9626 0.9419)" font-family="'Liberation Sans', Arial, sans-serif" font-size="66" stroke="#000" stroke-width="0.8" stroke-linejoin="round" style="font-kerning:none">80</text>
<text transform="translate(438.80 3728.80) scale(0.9342 0.9588)" font-family="'Liberation Sans', Arial, sans-serif" font-size="66" stroke="#000" stroke-width="0.8" stroke-linejoin="round" style="font-kerning:none">5%</text>
<text transform="translate(836.60 3728.80) scale(0.9420 0.9588)" font-family="'Liberation Sans', Arial, sans-serif" font-size="66" stroke="#000" stroke-width="0.8" stroke-linejoin="round" style="font-kerning:none">10%</text>
<text transform="translate(1251.90 3728.80) scale(0.9420 0.9588)" font-family="'Liberation Sans', Arial, sans-serif" font-size="66" stroke="#000" stroke-width="0.8" stroke-linejoin="round" style="font-kerning:none">15%</text>
<text transform="translate(1662.70 3728.80) scale(0.9638 0.9588)" font-family="'Liberation Sans', Arial, sans-serif" font-size="66" stroke="#000" stroke-width="0.8" stroke-linejoin="round" style="font-kerning:none">20%</text>
<text transform="translate(2077.00 3728.80) scale(0.9686 0.9588)" font-family="'Liberation Sans', Arial, sans-serif" font-size="66" stroke="#000" stroke-width="0.8" stroke-linejoin="round" style="font-kerning:none">25%</text>
<text transform="translate(720.70 3824.80) scale(0.9650 0.9721)" font-family="'Liberation Sans', Arial, sans-serif" font-size="82" stroke="#000" stroke-width="0.8" stroke-linejoin="round" style="font-kerning:none">Percentage of Destination Nodes</text>
<text transform="translate(77.40 3234.30) rotate(-90) scale(0.9563 0.9932)" font-family="'Liberation Sans', Arial, sans-serif" font-size="82" stroke="#000" stroke-width="0.8" stroke-linejoin="round" style="font-kerning:none">Total Transmissions</text>
<text transform="translate(557.20 2244.00) scale(0.9596 1.0036)" font-family="'Liberation Sans', Arial, sans-serif" font-size="82" stroke="#000" stroke-width="0.8" stroke-linejoin="round" style="font-kerning:none">MST</text>
<text transform="translate(559.80 2339.50) scale(0.9410 1.0004)" font-family="'Liberation Sans', Arial, sans-serif" font-size="82" stroke="#000" stroke-width="0.8" stroke-linejoin="round" style="font-kerning:none">SPT</text>
<text transform="translate(558.50 2436.60) scale(0.9355 1.0007)" font-family="'Liberation Sans', Arial, sans-serif" font-size="82" stroke="#000" stroke-width="0.8" stroke-linejoin="round" style="font-kerning:none">ASC</text>
<text transform="translate(1146.40 3947.60) scale(0.9579 0.9732)" font-family="'Liberation Serif', 'DejaVu Serif', serif" font-size="88" stroke="#000" stroke-width="0.5" stroke-linejoin="round" style="font-kerning:none">(<tspan font-weight="bold">b</tspan>)</text>
</svg>
</body>
</html>
